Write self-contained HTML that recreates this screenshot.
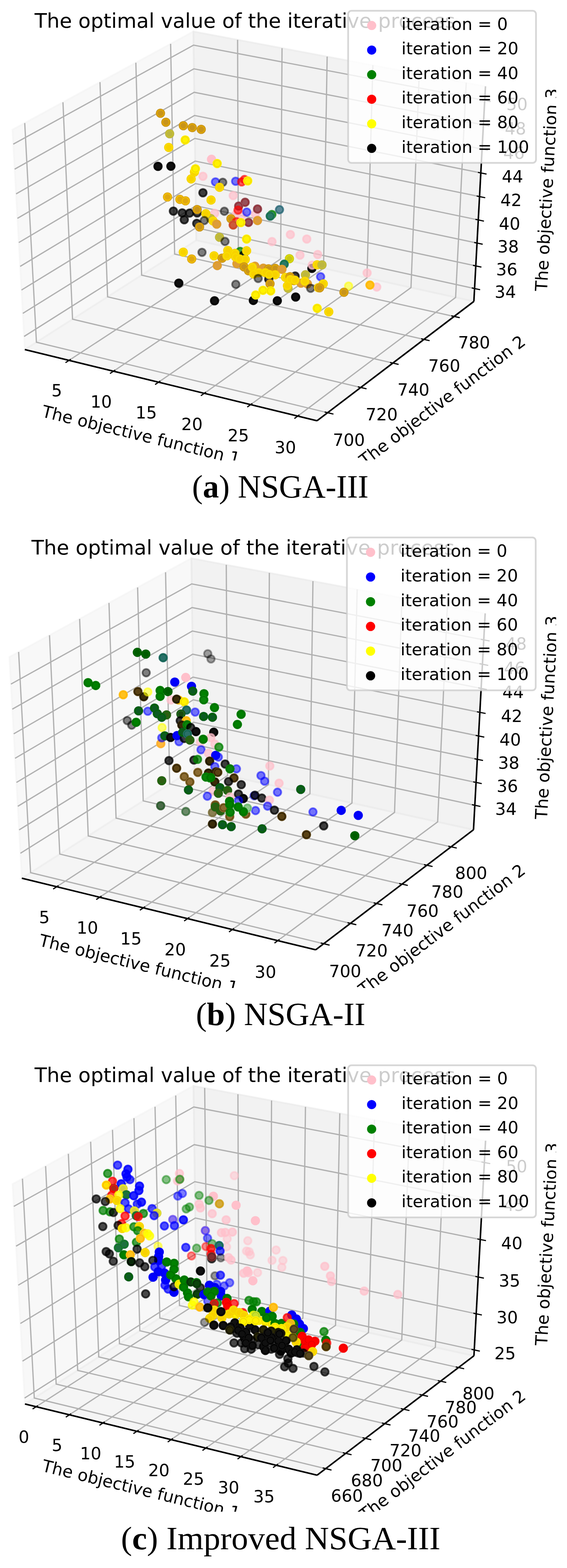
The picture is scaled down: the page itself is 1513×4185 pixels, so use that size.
<!DOCTYPE html>
<html><head><meta charset="utf-8"><title>The optimal value of the iterative process</title>
<style>html,body{margin:0;padding:0;background:#fff;}body{width:1513px;height:4185px;overflow:hidden;}svg{display:block;}</style>
</head><body>
<svg width="1513" height="4185" viewBox="0 0 1513 4185">
<rect width="100%" height="100%" fill="#fff"/>
<clipPath id="c1"><rect x="0.0" y="0.0" width="1484.0" height="1229.0"/></clipPath>
<g clip-path="url(#c1)">
<polygon points="66.3,933.1 523.6,641.4 516.0,84.0 33.2,346.1" fill="rgb(242,242,242)" fill-opacity="0.5" stroke="rgb(242,242,242)" stroke-opacity="0.5" stroke-width="4.5" stroke-linejoin="miter"/>
<polygon points="523.6,641.4 1264.5,804.5 1295.5,230.3 516.0,84.0" fill="rgb(230,230,230)" fill-opacity="0.5" stroke="rgb(230,230,230)" stroke-opacity="0.5" stroke-width="4.5" stroke-linejoin="miter"/>
<polygon points="66.3,933.1 845.8,1123.1 1264.5,804.5 523.6,641.4" fill="rgb(236,236,236)" fill-opacity="0.5" stroke="rgb(236,236,236)" stroke-opacity="0.5" stroke-width="4.5" stroke-linejoin="miter"/>
<path d="M66.3 933.1 L845.8 1123.1" stroke="#000" stroke-width="4.1" fill="none" stroke-linecap="butt"/>
<path d="M184.1 961.9 L636.0 666.2 L634.0 106.2 M302.7 990.8 L748.9 691.0 L752.6 128.4 M423.0 1020.1 L863.3 716.2 L873.0 151.0 M545.0 1049.8 L979.2 741.7 L995.0 173.9 M668.8 1080.0 L1096.7 767.6 L1118.7 197.1 M794.4 1110.6 L1215.8 793.8 L1244.1 220.7" stroke="#b0b0b0" stroke-width="3.3" fill="none" stroke-linejoin="miter"/>
<path d="M188.8 958.8 L174.8 968.0 M307.4 987.7 L293.5 997.0 M427.6 1016.9 L413.9 1026.4 M549.5 1046.6 L536.0 1056.2 M673.2 1076.7 L659.9 1086.4 M798.7 1107.3 L785.6 1117.1" stroke="#000" stroke-width="3.2" fill="none"/>
<path d="M1264.5 804.5 L845.8 1123.1" stroke="#000" stroke-width="4.1" fill="none" stroke-linecap="butt"/>
<path d="M66.0 328.3 L97.2 913.4 L874.2 1101.5 M168.0 273.0 L193.6 851.9 L962.6 1034.2 M266.8 219.3 L287.1 792.3 L1048.3 969.0 M362.5 167.4 L377.9 734.4 L1131.3 905.8 M455.3 117.0 L466.0 678.2 L1211.8 844.6" stroke="#b0b0b0" stroke-width="3.3" fill="none" stroke-linejoin="miter"/>
<path d="M866.4 1099.6 L889.8 1105.3 M954.9 1032.4 L978.1 1037.8 M1040.7 967.2 L1063.6 972.6 M1123.8 904.1 L1146.4 909.3 M1204.3 842.9 L1226.8 847.9" stroke="#000" stroke-width="3.2" fill="none"/>
<path d="M1264.5 804.5 L1295.5 230.3" stroke="#000" stroke-width="4.1" fill="none" stroke-linecap="butt"/>
<path d="M1266.3 770.1 L523.2 607.9 L64.3 898.0 M1269.6 709.7 L522.4 549.2 L60.9 836.4 M1272.9 648.7 L521.6 489.9 L57.3 774.1 M1276.2 587.0 L520.8 430.0 L53.8 711.0 M1279.6 524.6 L519.9 369.4 L50.2 647.3 M1283.0 461.5 L519.1 308.2 L46.5 582.8 M1286.4 397.7 L518.2 246.3 L42.9 517.5 M1289.9 333.2 L517.4 183.7 L39.1 451.5 M1293.4 267.9 L516.5 120.5 L35.4 384.7" stroke="#b0b0b0" stroke-width="3.3" fill="none" stroke-linejoin="miter"/>
<path d="M1258.9 768.4 L1281.2 773.3 M1262.1 708.1 L1284.6 712.9 M1265.4 647.1 L1288.0 651.9 M1268.7 585.4 L1291.4 590.2 M1272.0 523.1 L1294.8 527.7 M1275.3 460.0 L1298.3 464.6 M1278.7 396.2 L1301.9 400.8 M1282.2 331.7 L1305.4 336.2 M1285.7 266.5 L1309.1 270.9" stroke="#000" stroke-width="3.2" fill="none"/>
<g font-family="DejaVu Sans, Liberation Sans, sans-serif" fill="#000"><text x="151.4" y="1058.2" text-anchor="middle" font-size="44.8">5</text><text x="270.0" y="1087.6" text-anchor="middle" font-size="44.8">10</text><text x="390.2" y="1117.4" text-anchor="middle" font-size="44.8">15</text><text x="512.2" y="1147.7" text-anchor="middle" font-size="44.8">20</text><text x="636.0" y="1178.4" text-anchor="middle" font-size="44.8">25</text><text x="761.6" y="1209.5" text-anchor="middle" font-size="44.8">30</text><text transform="translate(375.7 1164.1) rotate(13.69)" x="0" y="12.4" text-anchor="middle" font-size="44.8">The objective function 1</text><text x="931.0" y="1189.9" text-anchor="middle" font-size="44.8">700</text><text x="1018.5" y="1121.8" text-anchor="middle" font-size="44.8">720</text><text x="1103.2" y="1055.8" text-anchor="middle" font-size="44.8">740</text><text x="1185.4" y="991.8" text-anchor="middle" font-size="44.8">760</text><text x="1265.0" y="929.8" text-anchor="middle" font-size="44.8">780</text><text transform="translate(1182.3 1071.8) rotate(-37.26)" x="0" y="12.4" text-anchor="middle" font-size="44.8">The objective function 2</text><text x="1348.6" y="795.4" text-anchor="middle" font-size="44.8">34</text><text x="1352.3" y="735.1" text-anchor="middle" font-size="44.8">36</text><text x="1356.1" y="674.2" text-anchor="middle" font-size="44.8">38</text><text x="1359.8" y="612.6" text-anchor="middle" font-size="44.8">40</text><text x="1363.7" y="550.3" text-anchor="middle" font-size="44.8">42</text><text x="1367.5" y="487.3" text-anchor="middle" font-size="44.8">44</text><text x="1371.5" y="423.6" text-anchor="middle" font-size="44.8">46</text><text x="1375.4" y="359.2" text-anchor="middle" font-size="44.8">48</text><text x="1379.4" y="294.0" text-anchor="middle" font-size="44.8">50</text><text transform="translate(1461.9 506.6) rotate(-86.91)" x="0" y="12.4" text-anchor="middle" font-size="44.8">The objective function 3</text></g>
<circle cx="428.2" cy="302.2" r="12.3" fill="#c8941a"/>
<circle cx="428.2" cy="302.2" r="8.9" fill="none" stroke="#e4aa00" stroke-width="2.2"/>
<circle cx="442.6" cy="326.3" r="12.3" fill="#c8941a"/>
<circle cx="442.6" cy="326.3" r="8.9" fill="none" stroke="#e4aa00" stroke-width="2.2"/>
<circle cx="452.7" cy="357.0" r="12.3" fill="#bcb640"/>
<circle cx="452.7" cy="357.0" r="8.9" fill="none" stroke="#c8c030" stroke-width="2.2"/>
<circle cx="489.2" cy="335.5" r="12.3" fill="#c8941a"/>
<circle cx="489.2" cy="335.5" r="8.9" fill="none" stroke="#e4aa00" stroke-width="2.2"/>
<circle cx="512.9" cy="340.5" r="12.3" fill="#c8941a"/>
<circle cx="512.9" cy="340.5" r="8.9" fill="none" stroke="#e4aa00" stroke-width="2.2"/>
<circle cx="536.9" cy="345.2" r="12.3" fill="#c8941a"/>
<circle cx="536.9" cy="345.2" r="8.9" fill="none" stroke="#e4aa00" stroke-width="2.2"/>
<circle cx="494.2" cy="373.5" r="12.3" fill="#fff200"/>
<circle cx="494.2" cy="373.5" r="8.9" fill="none" stroke="#f2d800" stroke-width="2.2"/>
<circle cx="450.2" cy="393.5" r="12.3" fill="#f8d200"/>
<circle cx="450.2" cy="393.5" r="8.9" fill="none" stroke="#f8e000" stroke-width="2.2"/>
<circle cx="421.6" cy="444.0" r="12.3" fill="#101010"/>
<circle cx="421.6" cy="444.0" r="8.9" fill="none" stroke="#000000" stroke-width="2.2"/>
<circle cx="456.0" cy="443.6" r="12.3" fill="#101010"/>
<circle cx="456.0" cy="443.6" r="8.9" fill="none" stroke="#000000" stroke-width="2.2"/>
<circle cx="564.4" cy="425.1" r="12.3" fill="#ffc0cb"/>
<circle cx="579.5" cy="436.5" r="12.3" fill="#fff200"/>
<circle cx="579.5" cy="436.5" r="8.9" fill="none" stroke="#f2d800" stroke-width="2.2"/>
<circle cx="518.9" cy="459.0" r="12.3" fill="#f8d200"/>
<circle cx="518.9" cy="459.0" r="8.9" fill="none" stroke="#f8e000" stroke-width="2.2"/>
<circle cx="521.5" cy="450.5" r="12.3" fill="#fff200"/>
<circle cx="521.5" cy="450.5" r="8.9" fill="none" stroke="#f2d800" stroke-width="2.2"/>
<circle cx="575.0" cy="485.5" r="12.3" fill="#0000ff" fill-opacity="0.53"/>
<circle cx="575.0" cy="485.5" r="8.9" fill="none" stroke="#0000ff" stroke-opacity="0.53" stroke-width="2.2"/>
<circle cx="594.4" cy="486.6" r="12.3" fill="#000000" fill-opacity="0.49"/>
<circle cx="594.4" cy="486.6" r="8.9" fill="none" stroke="#000000" stroke-opacity="0.49" stroke-width="2.2"/>
<circle cx="585.8" cy="499.9" r="12.3" fill="#f8d200"/>
<circle cx="585.8" cy="499.9" r="8.9" fill="none" stroke="#f8e000" stroke-width="2.2"/>
<circle cx="628.7" cy="483.8" r="12.3" fill="#0000ff" fill-opacity="0.53"/>
<circle cx="628.7" cy="483.8" r="8.9" fill="none" stroke="#0000ff" stroke-opacity="0.53" stroke-width="2.2"/>
<circle cx="644.9" cy="485.5" r="12.3" fill="#ff0000" fill-opacity="0.62"/>
<circle cx="644.9" cy="485.5" r="8.9" fill="none" stroke="#ff0000" stroke-opacity="0.62" stroke-width="2.2"/>
<circle cx="652.4" cy="479.1" r="12.3" fill="#ff0000" fill-opacity="0.62"/>
<circle cx="652.4" cy="479.1" r="8.9" fill="none" stroke="#ff0000" stroke-opacity="0.62" stroke-width="2.2"/>
<circle cx="661.0" cy="482.7" r="12.3" fill="#fff200"/>
<circle cx="661.0" cy="482.7" r="8.9" fill="none" stroke="#f2d800" stroke-width="2.2"/>
<circle cx="622.3" cy="522.0" r="12.3" fill="#ffc0cb" fill-opacity="0.71"/>
<circle cx="622.3" cy="522.0" r="8.9" fill="none" stroke="#ffc0cb" stroke-opacity="0.71" stroke-width="2.2"/>
<circle cx="563.2" cy="533.9" r="12.3" fill="#f8d200"/>
<circle cx="563.2" cy="533.9" r="8.9" fill="none" stroke="#f8e000" stroke-width="2.2"/>
<circle cx="630.9" cy="570.4" r="12.3" fill="#ffc0cb" fill-opacity="0.71"/>
<circle cx="630.9" cy="570.4" r="8.9" fill="none" stroke="#ffc0cb" stroke-opacity="0.71" stroke-width="2.2"/>
<circle cx="645.9" cy="574.7" r="12.3" fill="#ffc0cb" fill-opacity="0.71"/>
<circle cx="645.9" cy="574.7" r="8.9" fill="none" stroke="#ffc0cb" stroke-opacity="0.71" stroke-width="2.2"/>
<circle cx="681.4" cy="571.5" r="12.3" fill="#ffc0cb" fill-opacity="0.71"/>
<circle cx="681.4" cy="571.5" r="8.9" fill="none" stroke="#ffc0cb" stroke-opacity="0.71" stroke-width="2.2"/>
<circle cx="572.9" cy="569.3" r="12.3" fill="#ffc0cb" fill-opacity="0.71"/>
<circle cx="572.9" cy="569.3" r="8.9" fill="none" stroke="#ffc0cb" stroke-opacity="0.71" stroke-width="2.2"/>
<circle cx="654.1" cy="539.9" r="12.3" fill="#985058"/>
<circle cx="654.1" cy="539.9" r="8.9" fill="none" stroke="#902830" stroke-width="2.2"/>
<circle cx="636.9" cy="550.0" r="12.3" fill="#985058"/>
<circle cx="636.9" cy="550.0" r="8.9" fill="none" stroke="#902830" stroke-width="2.2"/>
<circle cx="635.2" cy="560.7" r="12.3" fill="#ff0000" fill-opacity="0.62"/>
<circle cx="635.2" cy="560.7" r="8.9" fill="none" stroke="#ff0000" stroke-opacity="0.62" stroke-width="2.2"/>
<circle cx="598.7" cy="563.9" r="12.3" fill="#000000" fill-opacity="0.49"/>
<circle cx="598.7" cy="563.9" r="8.9" fill="none" stroke="#000000" stroke-opacity="0.49" stroke-width="2.2"/>
<circle cx="658.4" cy="566.1" r="12.3" fill="#0000ff" fill-opacity="0.53"/>
<circle cx="658.4" cy="566.1" r="8.9" fill="none" stroke="#0000ff" stroke-opacity="0.53" stroke-width="2.2"/>
<circle cx="687.2" cy="557.9" r="12.3" fill="#985058"/>
<circle cx="687.2" cy="557.9" r="8.9" fill="none" stroke="#902830" stroke-width="2.2"/>
<circle cx="745.8" cy="559.6" r="12.3" fill="#5a8898"/>
<circle cx="745.8" cy="559.6" r="8.9" fill="none" stroke="#2a6a70" stroke-width="2.2"/>
<circle cx="725.4" cy="572.5" r="12.3" fill="#008000" fill-opacity="0.73"/>
<circle cx="725.4" cy="572.5" r="8.9" fill="none" stroke="#008000" stroke-opacity="0.73" stroke-width="2.2"/>
<circle cx="721.1" cy="576.8" r="12.3" fill="#2a7868"/>
<circle cx="721.1" cy="576.8" r="8.9" fill="none" stroke="#107040" stroke-width="2.2"/>
<circle cx="562.1" cy="583.3" r="12.3" fill="#bcb640"/>
<circle cx="562.1" cy="583.3" r="8.9" fill="none" stroke="#c8c030" stroke-width="2.2"/>
<circle cx="568.6" cy="589.7" r="12.3" fill="#f8d200"/>
<circle cx="568.6" cy="589.7" r="8.9" fill="none" stroke="#f8e000" stroke-width="2.2"/>
<circle cx="578.3" cy="598.3" r="12.3" fill="#dc9c3c"/>
<circle cx="578.3" cy="598.3" r="8.9" fill="none" stroke="#e2a020" stroke-width="2.2"/>
<circle cx="616.3" cy="583.7" r="12.3" fill="#c8941a"/>
<circle cx="616.3" cy="583.7" r="8.9" fill="none" stroke="#e4aa00" stroke-width="2.2"/>
<circle cx="687.2" cy="588.6" r="12.3" fill="#dc9c3c"/>
<circle cx="687.2" cy="588.6" r="8.9" fill="none" stroke="#e2a020" stroke-width="2.2"/>
<circle cx="663.1" cy="593.6" r="12.3" fill="#985058"/>
<circle cx="663.1" cy="593.6" r="8.9" fill="none" stroke="#902830" stroke-width="2.2"/>
<circle cx="630.9" cy="591.9" r="12.3" fill="#ff0000" fill-opacity="0.62"/>
<circle cx="630.9" cy="591.9" r="8.9" fill="none" stroke="#ff0000" stroke-opacity="0.62" stroke-width="2.2"/>
<circle cx="622.3" cy="600.5" r="12.3" fill="#cc5a3a"/>
<circle cx="622.3" cy="600.5" r="8.9" fill="none" stroke="#d04020" stroke-width="2.2"/>
<circle cx="642.7" cy="594.0" r="12.3" fill="#fff200"/>
<circle cx="642.7" cy="594.0" r="8.9" fill="none" stroke="#f2d800" stroke-width="2.2"/>
<circle cx="510.0" cy="477.6" r="12.3" fill="#f8d200"/>
<circle cx="510.0" cy="477.6" r="8.9" fill="none" stroke="#f8e000" stroke-width="2.2"/>
<circle cx="541.5" cy="470.5" r="12.3" fill="#ffc0cb" fill-opacity="0.71"/>
<circle cx="541.5" cy="470.5" r="8.9" fill="none" stroke="#ffc0cb" stroke-opacity="0.71" stroke-width="2.2"/>
<circle cx="541.5" cy="514.5" r="12.3" fill="#000000" fill-opacity="0.75"/>
<circle cx="541.5" cy="514.5" r="8.9" fill="none" stroke="#000000" stroke-opacity="0.75" stroke-width="2.2"/>
<circle cx="447.0" cy="525.7" r="12.3" fill="#e0a810"/>
<circle cx="447.0" cy="525.7" r="8.9" fill="none" stroke="#f4c400" stroke-width="2.2"/>
<circle cx="479.9" cy="532.1" r="12.3" fill="#e0a810"/>
<circle cx="479.9" cy="532.1" r="8.9" fill="none" stroke="#f4c400" stroke-width="2.2"/>
<circle cx="494.9" cy="536.0" r="12.3" fill="#e0a810"/>
<circle cx="494.9" cy="536.0" r="8.9" fill="none" stroke="#f4c400" stroke-width="2.2"/>
<circle cx="462.7" cy="563.5" r="12.3" fill="#000000" fill-opacity="0.75"/>
<circle cx="462.7" cy="563.5" r="8.9" fill="none" stroke="#000000" stroke-opacity="0.75" stroke-width="2.2"/>
<circle cx="486.3" cy="568.2" r="12.3" fill="#000000" fill-opacity="0.75"/>
<circle cx="486.3" cy="568.2" r="8.9" fill="none" stroke="#000000" stroke-opacity="0.75" stroke-width="2.2"/>
<circle cx="505.7" cy="568.7" r="12.3" fill="#000000" fill-opacity="0.75"/>
<circle cx="505.7" cy="568.7" r="8.9" fill="none" stroke="#000000" stroke-opacity="0.75" stroke-width="2.2"/>
<circle cx="491.7" cy="586.5" r="12.3" fill="#000000" fill-opacity="0.75"/>
<circle cx="491.7" cy="586.5" r="8.9" fill="none" stroke="#000000" stroke-opacity="0.75" stroke-width="2.2"/>
<circle cx="526.1" cy="568.2" r="12.3" fill="#000000" fill-opacity="0.75"/>
<circle cx="526.1" cy="568.2" r="8.9" fill="none" stroke="#000000" stroke-opacity="0.75" stroke-width="2.2"/>
<circle cx="526.1" cy="559.2" r="12.3" fill="#c8941a"/>
<circle cx="526.1" cy="559.2" r="8.9" fill="none" stroke="#e4aa00" stroke-width="2.2"/>
<circle cx="549.3" cy="570.4" r="12.3" fill="#f8d200"/>
<circle cx="549.3" cy="570.4" r="8.9" fill="none" stroke="#f8e000" stroke-width="2.2"/>
<circle cx="545.0" cy="588.6" r="12.3" fill="#000000" fill-opacity="0.49"/>
<circle cx="545.0" cy="588.6" r="8.9" fill="none" stroke="#000000" stroke-opacity="0.49" stroke-width="2.2"/>
<circle cx="525.0" cy="596.2" r="12.3" fill="#000000" fill-opacity="0.75"/>
<circle cx="525.0" cy="596.2" r="8.9" fill="none" stroke="#000000" stroke-opacity="0.75" stroke-width="2.2"/>
<circle cx="532.5" cy="605.8" r="12.3" fill="#c8941a"/>
<circle cx="532.5" cy="605.8" r="8.9" fill="none" stroke="#e4aa00" stroke-width="2.2"/>
<circle cx="489.1" cy="673.0" r="12.3" fill="#f8d200"/>
<circle cx="489.1" cy="673.0" r="8.9" fill="none" stroke="#f8e000" stroke-width="2.2"/>
<circle cx="511.5" cy="691.3" r="12.3" fill="#e0a810"/>
<circle cx="511.5" cy="691.3" r="8.9" fill="none" stroke="#f4c400" stroke-width="2.2"/>
<circle cx="539.0" cy="673.5" r="12.3" fill="#000000" fill-opacity="0.49"/>
<circle cx="539.0" cy="673.5" r="8.9" fill="none" stroke="#000000" stroke-opacity="0.49" stroke-width="2.2"/>
<circle cx="571.2" cy="682.7" r="12.3" fill="#f8d200"/>
<circle cx="571.2" cy="682.7" r="8.9" fill="none" stroke="#f8e000" stroke-width="2.2"/>
<circle cx="477.1" cy="755.7" r="12.3" fill="#101010"/>
<circle cx="477.1" cy="755.7" r="8.9" fill="none" stroke="#000000" stroke-width="2.2"/>
<circle cx="585.8" cy="633.3" r="12.3" fill="#bcb640"/>
<circle cx="585.8" cy="633.3" r="8.9" fill="none" stroke="#c8c030" stroke-width="2.2"/>
<circle cx="600.4" cy="644.4" r="12.3" fill="#000000" fill-opacity="0.49"/>
<circle cx="600.4" cy="644.4" r="8.9" fill="none" stroke="#000000" stroke-opacity="0.49" stroke-width="2.2"/>
<circle cx="658.0" cy="638.1" r="12.3" fill="#fff200"/>
<circle cx="658.0" cy="638.1" r="8.9" fill="none" stroke="#f2d800" stroke-width="2.2"/>
<circle cx="640.8" cy="671.1" r="12.3" fill="#008000" fill-opacity="0.73"/>
<circle cx="640.8" cy="671.1" r="8.9" fill="none" stroke="#008000" stroke-opacity="0.73" stroke-width="2.2"/>
<circle cx="649.4" cy="681.4" r="12.3" fill="#000000" fill-opacity="0.75"/>
<circle cx="649.4" cy="681.4" r="8.9" fill="none" stroke="#000000" stroke-opacity="0.75" stroke-width="2.2"/>
<circle cx="607.8" cy="668.5" r="12.3" fill="#f8d200"/>
<circle cx="607.8" cy="668.5" r="8.9" fill="none" stroke="#f8e000" stroke-width="2.2"/>
<circle cx="592.7" cy="689.1" r="12.3" fill="#c8941a"/>
<circle cx="592.7" cy="689.1" r="8.9" fill="none" stroke="#e4aa00" stroke-width="2.2"/>
<circle cx="605.5" cy="682.8" r="12.3" fill="#f8d200"/>
<circle cx="605.5" cy="682.8" r="8.9" fill="none" stroke="#f8e000" stroke-width="2.2"/>
<circle cx="627.0" cy="676.2" r="12.3" fill="#f8d200"/>
<circle cx="627.0" cy="676.2" r="8.9" fill="none" stroke="#f8e000" stroke-width="2.2"/>
<circle cx="630.5" cy="687.4" r="12.3" fill="#fff200"/>
<circle cx="630.5" cy="687.4" r="8.9" fill="none" stroke="#f2d800" stroke-width="2.2"/>
<circle cx="658.0" cy="669.4" r="12.3" fill="#f8d200"/>
<circle cx="658.0" cy="669.4" r="8.9" fill="none" stroke="#f8e000" stroke-width="2.2"/>
<circle cx="654.5" cy="692.6" r="12.3" fill="#f8d200"/>
<circle cx="654.5" cy="692.6" r="8.9" fill="none" stroke="#f8e000" stroke-width="2.2"/>
<circle cx="579.8" cy="708.9" r="12.3" fill="#dc9c3c"/>
<circle cx="579.8" cy="708.9" r="8.9" fill="none" stroke="#e2a020" stroke-width="2.2"/>
<circle cx="632.2" cy="703.7" r="12.3" fill="#dc9c3c"/>
<circle cx="632.2" cy="703.7" r="8.9" fill="none" stroke="#e2a020" stroke-width="2.2"/>
<circle cx="651.1" cy="712.3" r="12.3" fill="#c8941a"/>
<circle cx="651.1" cy="712.3" r="8.9" fill="none" stroke="#e4aa00" stroke-width="2.2"/>
<circle cx="663.1" cy="722.6" r="12.3" fill="#c8941a"/>
<circle cx="663.1" cy="722.6" r="8.9" fill="none" stroke="#e4aa00" stroke-width="2.2"/>
<circle cx="680.3" cy="710.6" r="12.3" fill="#dc9c3c"/>
<circle cx="680.3" cy="710.6" r="8.9" fill="none" stroke="#e2a020" stroke-width="2.2"/>
<circle cx="702.6" cy="715.8" r="12.3" fill="#dc9c3c"/>
<circle cx="702.6" cy="715.8" r="8.9" fill="none" stroke="#e2a020" stroke-width="2.2"/>
<circle cx="673.4" cy="713.2" r="12.3" fill="#f8d200"/>
<circle cx="673.4" cy="713.2" r="8.9" fill="none" stroke="#f8e000" stroke-width="2.2"/>
<circle cx="716.4" cy="717.5" r="12.3" fill="#c8941a"/>
<circle cx="716.4" cy="717.5" r="8.9" fill="none" stroke="#e4aa00" stroke-width="2.2"/>
<circle cx="690.6" cy="727.8" r="12.3" fill="#f8d200"/>
<circle cx="690.6" cy="727.8" r="8.9" fill="none" stroke="#f8e000" stroke-width="2.2"/>
<circle cx="707.8" cy="727.8" r="12.3" fill="#f8d200"/>
<circle cx="707.8" cy="727.8" r="8.9" fill="none" stroke="#f8e000" stroke-width="2.2"/>
<circle cx="676.9" cy="731.2" r="12.3" fill="#f8d200"/>
<circle cx="676.9" cy="731.2" r="8.9" fill="none" stroke="#f8e000" stroke-width="2.2"/>
<circle cx="725.8" cy="644.9" r="12.3" fill="#ffc0cb" fill-opacity="0.71"/>
<circle cx="725.8" cy="644.9" r="8.9" fill="none" stroke="#ffc0cb" stroke-opacity="0.71" stroke-width="2.2"/>
<circle cx="774.8" cy="626.0" r="12.3" fill="#ffc0cb" fill-opacity="0.71"/>
<circle cx="774.8" cy="626.0" r="8.9" fill="none" stroke="#ffc0cb" stroke-opacity="0.71" stroke-width="2.2"/>
<circle cx="818.6" cy="638.0" r="12.3" fill="#ffc0cb" fill-opacity="0.71"/>
<circle cx="818.6" cy="638.0" r="8.9" fill="none" stroke="#ffc0cb" stroke-opacity="0.71" stroke-width="2.2"/>
<circle cx="800.5" cy="681.0" r="12.3" fill="#ffc0cb" fill-opacity="0.71"/>
<circle cx="800.5" cy="681.0" r="8.9" fill="none" stroke="#ffc0cb" stroke-opacity="0.71" stroke-width="2.2"/>
<circle cx="847.8" cy="679.3" r="12.3" fill="#ffc0cb" fill-opacity="0.71"/>
<circle cx="847.8" cy="679.3" r="8.9" fill="none" stroke="#ffc0cb" stroke-opacity="0.71" stroke-width="2.2"/>
<circle cx="772.2" cy="690.5" r="12.3" fill="#c8c814"/>
<circle cx="772.2" cy="690.5" r="8.9" fill="none" stroke="#e0e000" stroke-width="2.2"/>
<circle cx="758.4" cy="705.1" r="12.3" fill="#2a7868"/>
<circle cx="758.4" cy="705.1" r="8.9" fill="none" stroke="#107040" stroke-width="2.2"/>
<circle cx="832.3" cy="716.2" r="12.3" fill="#101010"/>
<circle cx="832.3" cy="716.2" r="8.9" fill="none" stroke="#000000" stroke-width="2.2"/>
<circle cx="833.2" cy="707.6" r="12.3" fill="#ffc0cb" fill-opacity="0.71"/>
<circle cx="833.2" cy="707.6" r="8.9" fill="none" stroke="#ffc0cb" stroke-opacity="0.71" stroke-width="2.2"/>
<circle cx="846.1" cy="706.8" r="12.3" fill="#f8d200"/>
<circle cx="846.1" cy="706.8" r="8.9" fill="none" stroke="#f8e000" stroke-width="2.2"/>
<circle cx="855.5" cy="738.6" r="12.3" fill="#0000ff" fill-opacity="0.53"/>
<circle cx="855.5" cy="738.6" r="8.9" fill="none" stroke="#0000ff" stroke-opacity="0.53" stroke-width="2.2"/>
<circle cx="734.4" cy="716.2" r="12.3" fill="#c8941a"/>
<circle cx="734.4" cy="716.2" r="8.9" fill="none" stroke="#e4aa00" stroke-width="2.2"/>
<circle cx="752.4" cy="718.8" r="12.3" fill="#dc9c3c"/>
<circle cx="752.4" cy="718.8" r="8.9" fill="none" stroke="#e2a020" stroke-width="2.2"/>
<circle cx="734.4" cy="733.4" r="12.3" fill="#f8d200"/>
<circle cx="734.4" cy="733.4" r="8.9" fill="none" stroke="#f8e000" stroke-width="2.2"/>
<circle cx="717.2" cy="745.5" r="12.3" fill="#000000" fill-opacity="0.75"/>
<circle cx="717.2" cy="745.5" r="8.9" fill="none" stroke="#000000" stroke-opacity="0.75" stroke-width="2.2"/>
<circle cx="720.6" cy="757.5" r="12.3" fill="#c8941a"/>
<circle cx="720.6" cy="757.5" r="8.9" fill="none" stroke="#e4aa00" stroke-width="2.2"/>
<circle cx="787.6" cy="736.9" r="12.3" fill="#000000" fill-opacity="0.75"/>
<circle cx="787.6" cy="736.9" r="8.9" fill="none" stroke="#000000" stroke-opacity="0.75" stroke-width="2.2"/>
<circle cx="761.9" cy="740.3" r="12.3" fill="#f8d200"/>
<circle cx="761.9" cy="740.3" r="8.9" fill="none" stroke="#f8e000" stroke-width="2.2"/>
<circle cx="773.9" cy="738.6" r="12.3" fill="#c8941a"/>
<circle cx="773.9" cy="738.6" r="8.9" fill="none" stroke="#e4aa00" stroke-width="2.2"/>
<circle cx="784.2" cy="748.9" r="12.3" fill="#c8941a"/>
<circle cx="784.2" cy="748.9" r="8.9" fill="none" stroke="#e4aa00" stroke-width="2.2"/>
<circle cx="768.7" cy="769.5" r="12.3" fill="#bcb640"/>
<circle cx="768.7" cy="769.5" r="8.9" fill="none" stroke="#c8c030" stroke-width="2.2"/>
<circle cx="767.0" cy="762.6" r="12.3" fill="#f8d200"/>
<circle cx="767.0" cy="762.6" r="8.9" fill="none" stroke="#f8e000" stroke-width="2.2"/>
<circle cx="815.1" cy="733.4" r="12.3" fill="#bcb640"/>
<circle cx="815.1" cy="733.4" r="8.9" fill="none" stroke="#c8c030" stroke-width="2.2"/>
<circle cx="803.1" cy="755.8" r="12.3" fill="#dc9c3c"/>
<circle cx="803.1" cy="755.8" r="8.9" fill="none" stroke="#e2a020" stroke-width="2.2"/>
<circle cx="820.3" cy="757.5" r="12.3" fill="#dc9c3c"/>
<circle cx="820.3" cy="757.5" r="8.9" fill="none" stroke="#e2a020" stroke-width="2.2"/>
<circle cx="813.4" cy="750.6" r="12.3" fill="#f8d200"/>
<circle cx="813.4" cy="750.6" r="8.9" fill="none" stroke="#f8e000" stroke-width="2.2"/>
<circle cx="828.9" cy="769.5" r="12.3" fill="#000000" fill-opacity="0.49"/>
<circle cx="828.9" cy="769.5" r="8.9" fill="none" stroke="#000000" stroke-opacity="0.49" stroke-width="2.2"/>
<circle cx="849.5" cy="767.8" r="12.3" fill="#f8d200"/>
<circle cx="849.5" cy="767.8" r="8.9" fill="none" stroke="#f8e000" stroke-width="2.2"/>
<circle cx="701.7" cy="774.7" r="12.3" fill="#fff200"/>
<circle cx="701.7" cy="774.7" r="8.9" fill="none" stroke="#f2d800" stroke-width="2.2"/>
<circle cx="722.3" cy="776.4" r="12.3" fill="#fff200"/>
<circle cx="722.3" cy="776.4" r="8.9" fill="none" stroke="#f2d800" stroke-width="2.2"/>
<circle cx="859.3" cy="707.0" r="12.3" fill="#bcb640"/>
<circle cx="859.3" cy="707.0" r="8.9" fill="none" stroke="#c8c030" stroke-width="2.2"/>
<circle cx="862.6" cy="757.5" r="12.3" fill="#f8d200"/>
<circle cx="862.6" cy="757.5" r="8.9" fill="none" stroke="#f8e000" stroke-width="2.2"/>
<circle cx="852.9" cy="768.2" r="12.3" fill="#c8941a"/>
<circle cx="852.9" cy="768.2" r="8.9" fill="none" stroke="#e4aa00" stroke-width="2.2"/>
<circle cx="979.6" cy="728.5" r="12.3" fill="#ffc0cb" fill-opacity="0.71"/>
<circle cx="979.6" cy="728.5" r="8.9" fill="none" stroke="#ffc0cb" stroke-opacity="0.71" stroke-width="2.2"/>
<circle cx="930.2" cy="763.5" r="12.3" fill="#ffff00" fill-opacity="0.55"/>
<circle cx="930.2" cy="763.5" r="8.9" fill="none" stroke="#ffff00" stroke-opacity="0.55" stroke-width="2.2"/>
<circle cx="917.8" cy="780.0" r="12.3" fill="#c8941a"/>
<circle cx="917.8" cy="780.0" r="8.9" fill="none" stroke="#e4aa00" stroke-width="2.2"/>
<circle cx="1005.4" cy="766.1" r="12.3" fill="#ffc0cb" fill-opacity="0.71"/>
<circle cx="1005.4" cy="766.1" r="8.9" fill="none" stroke="#ffc0cb" stroke-opacity="0.71" stroke-width="2.2"/>
<circle cx="987.2" cy="760.7" r="12.3" fill="#ffc21e"/>
<circle cx="987.2" cy="760.7" r="8.9" fill="none" stroke="#ffb400" stroke-width="2.2"/>
<circle cx="629.2" cy="758.9" r="12.3" fill="#000000" fill-opacity="0.49"/>
<circle cx="629.2" cy="758.9" r="8.9" fill="none" stroke="#000000" stroke-opacity="0.49" stroke-width="2.2"/>
<circle cx="572.5" cy="802.7" r="12.3" fill="#101010"/>
<circle cx="572.5" cy="802.7" r="8.9" fill="none" stroke="#000000" stroke-width="2.2"/>
<circle cx="676.0" cy="801.9" r="12.3" fill="#101010"/>
<circle cx="676.0" cy="801.9" r="8.9" fill="none" stroke="#000000" stroke-width="2.2"/>
<circle cx="740.0" cy="802.7" r="12.3" fill="#101010"/>
<circle cx="740.0" cy="802.7" r="8.9" fill="none" stroke="#000000" stroke-width="2.2"/>
<circle cx="682.4" cy="787.3" r="12.3" fill="#fff200"/>
<circle cx="682.4" cy="787.3" r="8.9" fill="none" stroke="#f2d800" stroke-width="2.2"/>
<circle cx="688.9" cy="743.2" r="12.3" fill="#000000" fill-opacity="0.49"/>
<circle cx="688.9" cy="743.2" r="8.9" fill="none" stroke="#000000" stroke-opacity="0.49" stroke-width="2.2"/>
<circle cx="846.4" cy="822.7" r="12.3" fill="#fff200"/>
<circle cx="846.4" cy="822.7" r="8.9" fill="none" stroke="#f2d800" stroke-width="2.2"/>
<circle cx="877.3" cy="832.2" r="12.3" fill="#f8d200"/>
<circle cx="877.3" cy="832.2" r="8.9" fill="none" stroke="#f8e000" stroke-width="2.2"/>
<circle cx="788.9" cy="792.8" r="12.3" fill="#101010"/>
<circle cx="788.9" cy="792.8" r="8.9" fill="none" stroke="#000000" stroke-width="2.2"/>
<circle cx="718.1" cy="732.3" r="12.3" fill="#f8d200"/>
<circle cx="718.1" cy="732.3" r="8.9" fill="none" stroke="#f8e000" stroke-width="2.2"/>
<circle cx="774.8" cy="746.1" r="12.3" fill="#f8d200"/>
<circle cx="774.8" cy="746.1" r="8.9" fill="none" stroke="#f8e000" stroke-width="2.2"/>
<circle cx="786.9" cy="747.8" r="12.3" fill="#f8d200"/>
<circle cx="786.9" cy="747.8" r="8.9" fill="none" stroke="#f8e000" stroke-width="2.2"/>
<circle cx="628.7" cy="685.9" r="12.3" fill="#f8d200"/>
<circle cx="628.7" cy="685.9" r="8.9" fill="none" stroke="#f8e000" stroke-width="2.2"/>
<circle cx="639.1" cy="691.1" r="12.3" fill="#f8d200"/>
<circle cx="639.1" cy="691.1" r="8.9" fill="none" stroke="#f8e000" stroke-width="2.2"/>
<text x="92.2" y="73.5" font-family="DejaVu Sans, Liberation Sans, sans-serif" font-size="53.69">The optimal value of the iterative process</text>
<rect x="929.0" y="28.7" width="501.3" height="406.1" rx="9.0" fill="#fff" fill-opacity="0.8" stroke="#ccc" stroke-opacity="0.8" stroke-width="4.5"/>
<circle cx="991.8" cy="68.1" r="10.0" fill="#ffc0cb" stroke="#ffc0cb" stroke-width="4.5"/>
<text x="1071.3" y="79.6" font-family="DejaVu Sans, Liberation Sans, sans-serif" font-size="44.8">iteration = 0</text>
<circle cx="991.8" cy="133.7" r="10.0" fill="#0000ff" stroke="#0000ff" stroke-width="4.5"/>
<text x="1071.3" y="145.2" font-family="DejaVu Sans, Liberation Sans, sans-serif" font-size="44.8">iteration = 20</text>
<circle cx="991.8" cy="199.3" r="10.0" fill="#008000" stroke="#008000" stroke-width="4.5"/>
<text x="1071.3" y="210.8" font-family="DejaVu Sans, Liberation Sans, sans-serif" font-size="44.8">iteration = 40</text>
<circle cx="991.8" cy="264.9" r="10.0" fill="#ff0000" stroke="#ff0000" stroke-width="4.5"/>
<text x="1071.3" y="276.4" font-family="DejaVu Sans, Liberation Sans, sans-serif" font-size="44.8">iteration = 60</text>
<circle cx="991.8" cy="330.5" r="10.0" fill="#ffff00" stroke="#ffff00" stroke-width="4.5"/>
<text x="1071.3" y="342.0" font-family="DejaVu Sans, Liberation Sans, sans-serif" font-size="44.8">iteration = 80</text>
<circle cx="991.8" cy="396.1" r="10.0" fill="#000000" stroke="#000000" stroke-width="4.5"/>
<text x="1071.3" y="407.6" font-family="DejaVu Sans, Liberation Sans, sans-serif" font-size="44.8">iteration = 100</text>
</g>
<text x="512.6" y="1327.8" font-family="Liberation Serif, serif" font-size="87.0" textLength="470.9" lengthAdjust="spacingAndGlyphs">(<tspan font-weight="bold">a</tspan>) NSGA-III</text>
<clipPath id="c2"><rect x="0.0" y="1380.0" width="1484.0" height="1257.0"/></clipPath>
<g clip-path="url(#c2)">
<polygon points="58.3,2344.1 518.3,2050.7 510.7,1490.0 25.0,1753.6" fill="rgb(242,242,242)" fill-opacity="0.5" stroke="rgb(242,242,242)" stroke-opacity="0.5" stroke-width="4.5" stroke-linejoin="miter"/>
<polygon points="518.3,2050.7 1263.5,2214.7 1294.7,1637.2 510.7,1490.0" fill="rgb(230,230,230)" fill-opacity="0.5" stroke="rgb(230,230,230)" stroke-opacity="0.5" stroke-width="4.5" stroke-linejoin="miter"/>
<polygon points="58.3,2344.1 842.3,2535.1 1263.5,2214.7 518.3,2050.7" fill="rgb(236,236,236)" fill-opacity="0.5" stroke="rgb(236,236,236)" stroke-opacity="0.5" stroke-width="4.5" stroke-linejoin="miter"/>
<path d="M58.3 2344.1 L842.3 2535.1" stroke="#000" stroke-width="4.1" fill="none" stroke-linecap="butt"/>
<path d="M151.4 2366.7 L607.1 2070.2 L603.8 1507.5 M266.2 2394.7 L716.4 2094.3 L718.7 1529.1 M382.5 2423.1 L827.1 2118.6 L835.1 1550.9 M500.5 2451.8 L939.2 2143.3 L953.1 1573.0 M620.1 2480.9 L1052.8 2168.3 L1072.6 1595.5 M741.3 2510.5 L1167.8 2193.6 L1193.8 1618.2" stroke="#b0b0b0" stroke-width="3.3" fill="none" stroke-linejoin="miter"/>
<path d="M156.1 2363.7 L141.9 2372.9 M270.8 2391.6 L256.8 2400.9 M387.1 2419.9 L373.3 2429.4 M505.0 2448.6 L491.4 2458.2 M624.6 2477.7 L611.1 2487.4 M745.8 2507.2 L732.5 2517.1" stroke="#000" stroke-width="3.2" fill="none"/>
<path d="M1263.5 2214.7 L842.3 2535.1" stroke="#000" stroke-width="4.1" fill="none" stroke-linecap="butt"/>
<path d="M49.7 1740.2 L81.6 2329.2 L863.8 2518.8 M132.1 1695.5 L159.5 2279.5 L935.2 2464.4 M212.5 1651.9 L235.5 2231.1 L1004.9 2411.4 M290.8 1609.3 L309.7 2183.7 L1072.8 2359.8 M367.2 1567.9 L382.1 2137.5 L1139.1 2309.3 M441.8 1527.4 L452.8 2092.4 L1203.7 2260.2" stroke="#b0b0b0" stroke-width="3.3" fill="none" stroke-linejoin="miter"/>
<path d="M855.9 2516.9 L879.5 2522.6 M927.4 2462.6 L950.8 2468.1 M997.2 2409.6 L1020.4 2415.1 M1065.2 2358.0 L1088.2 2363.3 M1131.5 2307.6 L1154.3 2312.8 M1196.2 2258.5 L1218.8 2263.5" stroke="#000" stroke-width="3.2" fill="none"/>
<path d="M1263.5 2214.7 L1294.7 1637.2" stroke="#000" stroke-width="4.1" fill="none" stroke-linecap="butt"/>
<path d="M1267.0 2149.3 L517.4 1987.0 L54.5 2277.3 M1270.3 2088.3 L516.6 1927.7 L51.0 2215.0 M1273.7 2026.6 L515.8 1867.8 L47.5 2152.0 M1277.0 1964.3 L515.0 1807.3 L43.9 2088.3 M1280.4 1901.2 L514.2 1746.1 L40.2 2023.8 M1283.9 1837.4 L513.3 1684.2 L36.6 1958.6 M1287.4 1773.0 L512.5 1621.6 L32.8 1892.7 M1290.9 1707.7 L511.6 1558.4 L29.1 1825.9" stroke="#b0b0b0" stroke-width="3.3" fill="none" stroke-linejoin="miter"/>
<path d="M1259.5 2147.6 L1282.1 2152.5 M1262.8 2086.7 L1285.5 2091.5 M1266.1 2025.0 L1288.9 2029.8 M1269.4 1962.7 L1292.3 1967.4 M1272.8 1899.7 L1295.8 1904.3 M1276.2 1835.9 L1299.4 1840.5 M1279.6 1771.4 L1302.9 1776.0 M1283.1 1706.2 L1306.5 1710.7" stroke="#000" stroke-width="3.2" fill="none"/>
<g font-family="DejaVu Sans, Liberation Sans, sans-serif" fill="#000"><text x="118.4" y="2463.5" text-anchor="middle" font-size="45.0">5</text><text x="233.2" y="2492.0" text-anchor="middle" font-size="45.0">10</text><text x="349.5" y="2520.8" text-anchor="middle" font-size="45.0">15</text><text x="467.5" y="2550.1" text-anchor="middle" font-size="45.0">20</text><text x="587.1" y="2579.7" text-anchor="middle" font-size="45.0">25</text><text x="708.4" y="2609.8" text-anchor="middle" font-size="45.0">30</text><text transform="translate(369.5 2576.4) rotate(13.69)" x="0" y="12.4" text-anchor="middle" font-size="45.0">The objective function 1</text><text x="921.0" y="2607.8" text-anchor="middle" font-size="45.0">700</text><text x="991.7" y="2552.7" text-anchor="middle" font-size="45.0">720</text><text x="1060.6" y="2499.1" text-anchor="middle" font-size="45.0">740</text><text x="1127.8" y="2446.8" text-anchor="middle" font-size="45.0">760</text><text x="1193.4" y="2395.7" text-anchor="middle" font-size="45.0">780</text><text x="1257.3" y="2345.9" text-anchor="middle" font-size="45.0">800</text><text transform="translate(1180.9 2483.6) rotate(-37.26)" x="0" y="12.4" text-anchor="middle" font-size="45.0">The objective function 2</text><text x="1350.0" y="2174.7" text-anchor="middle" font-size="45.0">34</text><text x="1353.8" y="2113.8" text-anchor="middle" font-size="45.0">36</text><text x="1357.6" y="2052.3" text-anchor="middle" font-size="45.0">38</text><text x="1361.4" y="1990.0" text-anchor="middle" font-size="45.0">40</text><text x="1365.3" y="1927.1" text-anchor="middle" font-size="45.0">42</text><text x="1369.2" y="1863.4" text-anchor="middle" font-size="45.0">44</text><text x="1373.1" y="1799.0" text-anchor="middle" font-size="45.0">46</text><text x="1377.1" y="1733.9" text-anchor="middle" font-size="45.0">48</text><text transform="translate(1462.1 1915.0) rotate(-86.91)" x="0" y="12.4" text-anchor="middle" font-size="45.0">The objective function 3</text></g>
<circle cx="235.0" cy="1822.0" r="12.3" fill="#008000"/>
<circle cx="235.0" cy="1822.0" r="8.9" fill="none" stroke="#006c00" stroke-width="2.3"/>
<circle cx="255.4" cy="1829.6" r="12.3" fill="#008000"/>
<circle cx="255.4" cy="1829.6" r="8.9" fill="none" stroke="#006c00" stroke-width="2.3"/>
<circle cx="366.5" cy="1741.1" r="12.3" fill="#005c00"/>
<circle cx="366.5" cy="1741.1" r="8.9" fill="none" stroke="#006a00" stroke-width="2.3"/>
<circle cx="389.0" cy="1745.8" r="12.3" fill="#005c00"/>
<circle cx="389.0" cy="1745.8" r="8.9" fill="none" stroke="#006a00" stroke-width="2.3"/>
<circle cx="390.1" cy="1795.6" r="12.3" fill="#000000" fill-opacity="0.49"/>
<circle cx="390.1" cy="1795.6" r="8.9" fill="none" stroke="#000000" stroke-opacity="0.49" stroke-width="2.3"/>
<circle cx="328.9" cy="1854.3" r="12.3" fill="#ffc21e"/>
<circle cx="328.9" cy="1854.3" r="8.9" fill="none" stroke="#ffb400" stroke-width="2.3"/>
<circle cx="368.0" cy="1845.7" r="12.3" fill="#5a4214"/>
<circle cx="368.0" cy="1845.7" r="8.9" fill="none" stroke="#2e2000" stroke-width="2.3"/>
<circle cx="383.7" cy="1859.6" r="12.3" fill="#3a2c08"/>
<circle cx="383.7" cy="1859.6" r="8.9" fill="none" stroke="#1a1400" stroke-width="2.3"/>
<circle cx="394.4" cy="1846.7" r="12.3" fill="#ffff00" fill-opacity="0.55"/>
<circle cx="394.4" cy="1846.7" r="8.9" fill="none" stroke="#ffff00" stroke-opacity="0.55" stroke-width="2.3"/>
<circle cx="369.7" cy="1897.2" r="12.3" fill="#0c5a22"/>
<circle cx="369.7" cy="1897.2" r="8.9" fill="none" stroke="#006400" stroke-width="2.3"/>
<circle cx="394.4" cy="1898.3" r="12.3" fill="#0000ff" fill-opacity="0.53"/>
<circle cx="394.4" cy="1898.3" r="8.9" fill="none" stroke="#0000ff" stroke-opacity="0.53" stroke-width="2.3"/>
<circle cx="435.4" cy="1755.4" r="12.3" fill="#2a7068"/>
<circle cx="435.4" cy="1755.4" r="8.9" fill="none" stroke="#0e6450" stroke-width="2.3"/>
<circle cx="554.4" cy="1744.7" r="12.3" fill="#000000" fill-opacity="0.36"/>
<circle cx="554.4" cy="1744.7" r="8.9" fill="none" stroke="#000000" stroke-opacity="0.36" stroke-width="2.3"/>
<circle cx="563.0" cy="1758.7" r="12.3" fill="#000000" fill-opacity="0.36"/>
<circle cx="563.0" cy="1758.7" r="8.9" fill="none" stroke="#000000" stroke-opacity="0.36" stroke-width="2.3"/>
<circle cx="495.6" cy="1808.1" r="12.3" fill="#ffc0cb"/>
<circle cx="466.4" cy="1820.5" r="12.3" fill="#0000ff"/>
<circle cx="466.4" cy="1820.5" r="8.9" fill="none" stroke="#0000e6" stroke-width="2.3"/>
<circle cx="511.0" cy="1831.7" r="12.3" fill="#0000ff"/>
<circle cx="511.0" cy="1831.7" r="8.9" fill="none" stroke="#0000e6" stroke-width="2.3"/>
<circle cx="514.3" cy="1844.6" r="12.3" fill="#0c5a22"/>
<circle cx="514.3" cy="1844.6" r="8.9" fill="none" stroke="#006400" stroke-width="2.3"/>
<circle cx="544.3" cy="1851.5" r="12.3" fill="#008000"/>
<circle cx="544.3" cy="1851.5" r="8.9" fill="none" stroke="#006c00" stroke-width="2.3"/>
<circle cx="543.7" cy="1867.8" r="12.3" fill="#0a840a"/>
<circle cx="543.7" cy="1867.8" r="8.9" fill="none" stroke="#007000" stroke-width="2.3"/>
<circle cx="427.3" cy="1842.9" r="12.3" fill="#008000"/>
<circle cx="427.3" cy="1842.9" r="8.9" fill="none" stroke="#006c00" stroke-width="2.3"/>
<circle cx="448.3" cy="1845.7" r="12.3" fill="#005c00"/>
<circle cx="448.3" cy="1845.7" r="8.9" fill="none" stroke="#006a00" stroke-width="2.3"/>
<circle cx="427.3" cy="1858.6" r="12.3" fill="#008000"/>
<circle cx="427.3" cy="1858.6" r="8.9" fill="none" stroke="#006c00" stroke-width="2.3"/>
<circle cx="456.3" cy="1868.2" r="12.3" fill="#ffc0cb" fill-opacity="0.71"/>
<circle cx="456.3" cy="1868.2" r="8.9" fill="none" stroke="#ffc0cb" stroke-opacity="0.71" stroke-width="2.3"/>
<circle cx="476.7" cy="1868.2" r="12.3" fill="#ffc21e"/>
<circle cx="476.7" cy="1868.2" r="8.9" fill="none" stroke="#ffb400" stroke-width="2.3"/>
<circle cx="471.3" cy="1866.1" r="12.3" fill="#3a2c08"/>
<circle cx="471.3" cy="1866.1" r="8.9" fill="none" stroke="#1a1400" stroke-width="2.3"/>
<circle cx="491.7" cy="1873.0" r="12.3" fill="#fff200"/>
<circle cx="491.7" cy="1873.0" r="8.9" fill="none" stroke="#f2d800" stroke-width="2.3"/>
<circle cx="572.3" cy="1888.6" r="12.3" fill="#008000"/>
<circle cx="572.3" cy="1888.6" r="8.9" fill="none" stroke="#006c00" stroke-width="2.3"/>
<circle cx="412.2" cy="1889.7" r="12.3" fill="#0c5a22"/>
<circle cx="412.2" cy="1889.7" r="8.9" fill="none" stroke="#006400" stroke-width="2.3"/>
<circle cx="419.7" cy="1904.7" r="12.3" fill="#0c5a22"/>
<circle cx="419.7" cy="1904.7" r="8.9" fill="none" stroke="#006400" stroke-width="2.3"/>
<circle cx="444.4" cy="1908.0" r="12.3" fill="#2e5e12"/>
<circle cx="444.4" cy="1908.0" r="8.9" fill="none" stroke="#1a6a10" stroke-width="2.3"/>
<circle cx="431.6" cy="1914.4" r="12.3" fill="#0c5a22"/>
<circle cx="431.6" cy="1914.4" r="8.9" fill="none" stroke="#006400" stroke-width="2.3"/>
<circle cx="497.7" cy="1895.1" r="12.3" fill="#2a7068"/>
<circle cx="497.7" cy="1895.1" r="8.9" fill="none" stroke="#0e6450" stroke-width="2.3"/>
<circle cx="482.7" cy="1905.8" r="12.3" fill="#1a4a10"/>
<circle cx="482.7" cy="1905.8" r="8.9" fill="none" stroke="#207020" stroke-width="2.3"/>
<circle cx="520.7" cy="1900.5" r="12.3" fill="#0000ff" fill-opacity="0.53"/>
<circle cx="520.7" cy="1900.5" r="8.9" fill="none" stroke="#0000ff" stroke-opacity="0.53" stroke-width="2.3"/>
<circle cx="543.3" cy="1912.3" r="12.3" fill="#0c5a22"/>
<circle cx="543.3" cy="1912.3" r="8.9" fill="none" stroke="#006400" stroke-width="2.3"/>
<circle cx="566.9" cy="1914.4" r="12.3" fill="#0c5a22"/>
<circle cx="566.9" cy="1914.4" r="8.9" fill="none" stroke="#006400" stroke-width="2.3"/>
<circle cx="643.4" cy="1906.5" r="12.3" fill="#008000"/>
<circle cx="643.4" cy="1906.5" r="8.9" fill="none" stroke="#006c00" stroke-width="2.3"/>
<circle cx="633.5" cy="1933.6" r="12.3" fill="#008000"/>
<circle cx="633.5" cy="1933.6" r="8.9" fill="none" stroke="#006c00" stroke-width="2.3"/>
<circle cx="570.3" cy="1954.4" r="12.3" fill="#101010"/>
<circle cx="570.3" cy="1954.4" r="8.9" fill="none" stroke="#000000" stroke-width="2.3"/>
<circle cx="339.6" cy="1923.2" r="12.3" fill="#000000" fill-opacity="0.49"/>
<circle cx="339.6" cy="1923.2" r="8.9" fill="none" stroke="#000000" stroke-opacity="0.49" stroke-width="2.3"/>
<circle cx="351.5" cy="1935.4" r="12.3" fill="#000000" fill-opacity="0.49"/>
<circle cx="351.5" cy="1935.4" r="8.9" fill="none" stroke="#000000" stroke-opacity="0.49" stroke-width="2.3"/>
<circle cx="363.3" cy="1927.9" r="12.3" fill="#008000"/>
<circle cx="363.3" cy="1927.9" r="8.9" fill="none" stroke="#006c00" stroke-width="2.3"/>
<circle cx="432.6" cy="1941.9" r="12.3" fill="#ffff00" fill-opacity="0.55"/>
<circle cx="432.6" cy="1941.9" r="8.9" fill="none" stroke="#ffff00" stroke-opacity="0.55" stroke-width="2.3"/>
<circle cx="429.0" cy="1984.9" r="12.3" fill="#ffb83c"/>
<circle cx="429.0" cy="1984.9" r="8.9" fill="none" stroke="#ffac28" stroke-width="2.3"/>
<circle cx="431.6" cy="1969.2" r="12.3" fill="#0000ff" fill-opacity="0.53"/>
<circle cx="431.6" cy="1969.2" r="8.9" fill="none" stroke="#0000ff" stroke-opacity="0.53" stroke-width="2.3"/>
<circle cx="439.7" cy="1964.0" r="12.3" fill="#0c5a22"/>
<circle cx="439.7" cy="1964.0" r="8.9" fill="none" stroke="#006400" stroke-width="2.3"/>
<circle cx="455.2" cy="1968.3" r="12.3" fill="#101010"/>
<circle cx="455.2" cy="1968.3" r="8.9" fill="none" stroke="#000000" stroke-width="2.3"/>
<circle cx="477.7" cy="1979.5" r="12.3" fill="#0000ff" fill-opacity="0.53"/>
<circle cx="477.7" cy="1979.5" r="8.9" fill="none" stroke="#0000ff" stroke-opacity="0.53" stroke-width="2.3"/>
<circle cx="472.4" cy="1963.4" r="12.3" fill="#0000ff"/>
<circle cx="472.4" cy="1963.4" r="8.9" fill="none" stroke="#0000e6" stroke-width="2.3"/>
<circle cx="481.0" cy="1923.6" r="12.3" fill="#000000" fill-opacity="0.75"/>
<circle cx="481.0" cy="1923.6" r="8.9" fill="none" stroke="#000000" stroke-opacity="0.75" stroke-width="2.3"/>
<circle cx="497.1" cy="1923.6" r="12.3" fill="#ffc21e"/>
<circle cx="497.1" cy="1923.6" r="8.9" fill="none" stroke="#ffb400" stroke-width="2.3"/>
<circle cx="485.3" cy="1935.4" r="12.3" fill="#3a2c08"/>
<circle cx="485.3" cy="1935.4" r="8.9" fill="none" stroke="#1a1400" stroke-width="2.3"/>
<circle cx="499.2" cy="1934.4" r="12.3" fill="#0a840a"/>
<circle cx="499.2" cy="1934.4" r="8.9" fill="none" stroke="#007000" stroke-width="2.3"/>
<circle cx="508.9" cy="1941.9" r="12.3" fill="#000000" fill-opacity="0.75"/>
<circle cx="508.9" cy="1941.9" r="8.9" fill="none" stroke="#000000" stroke-opacity="0.75" stroke-width="2.3"/>
<circle cx="522.9" cy="1952.6" r="12.3" fill="#101010"/>
<circle cx="522.9" cy="1952.6" r="8.9" fill="none" stroke="#000000" stroke-width="2.3"/>
<circle cx="491.7" cy="1970.9" r="12.3" fill="#000000" fill-opacity="0.75"/>
<circle cx="491.7" cy="1970.9" r="8.9" fill="none" stroke="#000000" stroke-opacity="0.75" stroke-width="2.3"/>
<circle cx="487.4" cy="1954.8" r="12.3" fill="#0c5a22"/>
<circle cx="487.4" cy="1954.8" r="8.9" fill="none" stroke="#006400" stroke-width="2.3"/>
<circle cx="500.3" cy="1959.1" r="12.3" fill="#2a7068"/>
<circle cx="500.3" cy="1959.1" r="8.9" fill="none" stroke="#0e6450" stroke-width="2.3"/>
<circle cx="506.7" cy="1975.2" r="12.3" fill="#2e5e12"/>
<circle cx="506.7" cy="1975.2" r="8.9" fill="none" stroke="#1a6a10" stroke-width="2.3"/>
<circle cx="534.7" cy="1980.6" r="12.3" fill="#ffc0cb" fill-opacity="0.71"/>
<circle cx="534.7" cy="1980.6" r="8.9" fill="none" stroke="#ffc0cb" stroke-opacity="0.71" stroke-width="2.3"/>
<circle cx="562.6" cy="1968.7" r="12.3" fill="#ffc0cb" fill-opacity="0.71"/>
<circle cx="562.6" cy="1968.7" r="8.9" fill="none" stroke="#ffc0cb" stroke-opacity="0.71" stroke-width="2.3"/>
<circle cx="573.3" cy="1985.9" r="12.3" fill="#ffc0cb" fill-opacity="0.71"/>
<circle cx="573.3" cy="1985.9" r="8.9" fill="none" stroke="#ffc0cb" stroke-opacity="0.71" stroke-width="2.3"/>
<circle cx="542.2" cy="1973.0" r="12.3" fill="#008000"/>
<circle cx="542.2" cy="1973.0" r="8.9" fill="none" stroke="#006c00" stroke-width="2.3"/>
<circle cx="536.4" cy="2001.0" r="12.3" fill="#0000ff" fill-opacity="0.53"/>
<circle cx="536.4" cy="2001.0" r="8.9" fill="none" stroke="#0000ff" stroke-opacity="0.53" stroke-width="2.3"/>
<circle cx="556.2" cy="2010.6" r="12.3" fill="#ffc0cb" fill-opacity="0.71"/>
<circle cx="556.2" cy="2010.6" r="8.9" fill="none" stroke="#ffc0cb" stroke-opacity="0.71" stroke-width="2.3"/>
<circle cx="575.5" cy="2016.0" r="12.3" fill="#0000ff"/>
<circle cx="575.5" cy="2016.0" r="8.9" fill="none" stroke="#0000e6" stroke-width="2.3"/>
<circle cx="450.9" cy="2030.0" r="12.3" fill="#000000" fill-opacity="0.75"/>
<circle cx="450.9" cy="2030.0" r="8.9" fill="none" stroke="#000000" stroke-opacity="0.75" stroke-width="2.3"/>
<circle cx="517.5" cy="2028.5" r="12.3" fill="#000000" fill-opacity="0.75"/>
<circle cx="517.5" cy="2028.5" r="8.9" fill="none" stroke="#000000" stroke-opacity="0.75" stroke-width="2.3"/>
<circle cx="527.2" cy="2026.7" r="12.3" fill="#008000" fill-opacity="0.75"/>
<circle cx="527.2" cy="2026.7" r="8.9" fill="none" stroke="#008000" stroke-opacity="0.75" stroke-width="2.3"/>
<circle cx="559.4" cy="2031.5" r="12.3" fill="#3a2c08"/>
<circle cx="559.4" cy="2031.5" r="8.9" fill="none" stroke="#1a1400" stroke-width="2.3"/>
<circle cx="573.3" cy="2046.1" r="12.3" fill="#0000ff" fill-opacity="0.53"/>
<circle cx="573.3" cy="2046.1" r="8.9" fill="none" stroke="#0000ff" stroke-opacity="0.53" stroke-width="2.3"/>
<circle cx="471.3" cy="2050.4" r="12.3" fill="#5a4214"/>
<circle cx="471.3" cy="2050.4" r="8.9" fill="none" stroke="#2e2000" stroke-width="2.3"/>
<circle cx="527.8" cy="2061.5" r="12.3" fill="#8a6a30"/>
<circle cx="527.8" cy="2061.5" r="8.9" fill="none" stroke="#604610" stroke-width="2.3"/>
<circle cx="491.7" cy="2072.9" r="12.3" fill="#8a6a30"/>
<circle cx="491.7" cy="2072.9" r="8.9" fill="none" stroke="#604610" stroke-width="2.3"/>
<circle cx="506.7" cy="2086.9" r="12.3" fill="#8a6a30"/>
<circle cx="506.7" cy="2086.9" r="8.9" fill="none" stroke="#604610" stroke-width="2.3"/>
<circle cx="431.6" cy="2083.7" r="12.3" fill="#2e5e12"/>
<circle cx="431.6" cy="2083.7" r="8.9" fill="none" stroke="#1a6a10" stroke-width="2.3"/>
<circle cx="576.6" cy="2060.0" r="12.3" fill="#3a2c08"/>
<circle cx="576.6" cy="2060.0" r="8.9" fill="none" stroke="#1a1400" stroke-width="2.3"/>
<circle cx="556.2" cy="2063.3" r="12.3" fill="#3a2c08"/>
<circle cx="556.2" cy="2063.3" r="8.9" fill="none" stroke="#1a1400" stroke-width="2.3"/>
<circle cx="549.7" cy="2074.0" r="12.3" fill="#0a840a"/>
<circle cx="549.7" cy="2074.0" r="8.9" fill="none" stroke="#007000" stroke-width="2.3"/>
<circle cx="560.5" cy="2076.2" r="12.3" fill="#0a840a"/>
<circle cx="560.5" cy="2076.2" r="8.9" fill="none" stroke="#007000" stroke-width="2.3"/>
<circle cx="573.3" cy="2086.9" r="12.3" fill="#3a2c08"/>
<circle cx="573.3" cy="2086.9" r="8.9" fill="none" stroke="#1a1400" stroke-width="2.3"/>
<circle cx="584.1" cy="1994.1" r="12.3" fill="#008000" fill-opacity="0.75"/>
<circle cx="584.1" cy="1994.1" r="8.9" fill="none" stroke="#008000" stroke-opacity="0.75" stroke-width="2.3"/>
<circle cx="582.6" cy="2020.6" r="12.3" fill="#0000ff" fill-opacity="0.53"/>
<circle cx="582.6" cy="2020.6" r="8.9" fill="none" stroke="#0000ff" stroke-opacity="0.53" stroke-width="2.3"/>
<circle cx="600.8" cy="2039.2" r="12.3" fill="#000000" fill-opacity="0.75"/>
<circle cx="600.8" cy="2039.2" r="8.9" fill="none" stroke="#000000" stroke-opacity="0.75" stroke-width="2.3"/>
<circle cx="630.9" cy="2052.1" r="12.3" fill="#0000ff" fill-opacity="0.53"/>
<circle cx="630.9" cy="2052.1" r="8.9" fill="none" stroke="#0000ff" stroke-opacity="0.53" stroke-width="2.3"/>
<circle cx="613.7" cy="2052.1" r="12.3" fill="#0a840a"/>
<circle cx="613.7" cy="2052.1" r="8.9" fill="none" stroke="#007000" stroke-width="2.3"/>
<circle cx="581.1" cy="2061.4" r="12.3" fill="#5a4214"/>
<circle cx="581.1" cy="2061.4" r="8.9" fill="none" stroke="#2e2000" stroke-width="2.3"/>
<circle cx="624.4" cy="2076.4" r="12.3" fill="#5a4214"/>
<circle cx="624.4" cy="2076.4" r="8.9" fill="none" stroke="#2e2000" stroke-width="2.3"/>
<circle cx="609.8" cy="2086.1" r="12.3" fill="#000000" fill-opacity="0.75"/>
<circle cx="609.8" cy="2086.1" r="8.9" fill="none" stroke="#000000" stroke-opacity="0.75" stroke-width="2.3"/>
<circle cx="643.8" cy="2094.2" r="12.3" fill="#000000" fill-opacity="0.75"/>
<circle cx="643.8" cy="2094.2" r="8.9" fill="none" stroke="#000000" stroke-opacity="0.75" stroke-width="2.3"/>
<circle cx="562.1" cy="2075.3" r="12.3" fill="#008000"/>
<circle cx="562.1" cy="2075.3" r="8.9" fill="none" stroke="#006c00" stroke-width="2.3"/>
<circle cx="568.6" cy="2111.9" r="12.3" fill="#ffc0cb" fill-opacity="0.71"/>
<circle cx="568.6" cy="2111.9" r="8.9" fill="none" stroke="#ffc0cb" stroke-opacity="0.71" stroke-width="2.3"/>
<circle cx="586.9" cy="2102.2" r="12.3" fill="#0c5a22"/>
<circle cx="586.9" cy="2102.2" r="8.9" fill="none" stroke="#006400" stroke-width="2.3"/>
<circle cx="607.3" cy="2109.7" r="12.3" fill="#2e5e12"/>
<circle cx="607.3" cy="2109.7" r="8.9" fill="none" stroke="#1a6a10" stroke-width="2.3"/>
<circle cx="582.6" cy="2117.2" r="12.3" fill="#2e5e12"/>
<circle cx="582.6" cy="2117.2" r="8.9" fill="none" stroke="#1a6a10" stroke-width="2.3"/>
<circle cx="613.7" cy="2126.9" r="12.3" fill="#ffc0cb" fill-opacity="0.71"/>
<circle cx="613.7" cy="2126.9" r="8.9" fill="none" stroke="#ffc0cb" stroke-opacity="0.71" stroke-width="2.3"/>
<circle cx="636.3" cy="2119.4" r="12.3" fill="#000000" fill-opacity="0.75"/>
<circle cx="636.3" cy="2119.4" r="8.9" fill="none" stroke="#000000" stroke-opacity="0.75" stroke-width="2.3"/>
<circle cx="649.2" cy="2131.2" r="12.3" fill="#101010"/>
<circle cx="649.2" cy="2131.2" r="8.9" fill="none" stroke="#000000" stroke-width="2.3"/>
<circle cx="678.2" cy="2123.7" r="12.3" fill="#0000ff" fill-opacity="0.53"/>
<circle cx="678.2" cy="2123.7" r="8.9" fill="none" stroke="#0000ff" stroke-opacity="0.53" stroke-width="2.3"/>
<circle cx="680.3" cy="2122.6" r="12.3" fill="#000000" fill-opacity="0.75"/>
<circle cx="680.3" cy="2122.6" r="8.9" fill="none" stroke="#000000" stroke-opacity="0.75" stroke-width="2.3"/>
<circle cx="698.6" cy="2130.1" r="12.3" fill="#000000" fill-opacity="0.75"/>
<circle cx="698.6" cy="2130.1" r="8.9" fill="none" stroke="#000000" stroke-opacity="0.75" stroke-width="2.3"/>
<circle cx="720.0" cy="2044.2" r="12.3" fill="#ffc0cb" fill-opacity="0.71"/>
<circle cx="720.0" cy="2044.2" r="8.9" fill="none" stroke="#ffc0cb" stroke-opacity="0.71" stroke-width="2.3"/>
<circle cx="696.4" cy="2070.0" r="12.3" fill="#0000ff" fill-opacity="0.53"/>
<circle cx="696.4" cy="2070.0" r="8.9" fill="none" stroke="#0000ff" stroke-opacity="0.53" stroke-width="2.3"/>
<circle cx="706.1" cy="2085.0" r="12.3" fill="#0000ff" fill-opacity="0.53"/>
<circle cx="706.1" cy="2085.0" r="8.9" fill="none" stroke="#0000ff" stroke-opacity="0.53" stroke-width="2.3"/>
<circle cx="744.7" cy="2090.4" r="12.3" fill="#ffc0cb" fill-opacity="0.71"/>
<circle cx="744.7" cy="2090.4" r="8.9" fill="none" stroke="#ffc0cb" stroke-opacity="0.71" stroke-width="2.3"/>
<circle cx="740.5" cy="2114.4" r="12.3" fill="#0000ff" fill-opacity="0.53"/>
<circle cx="740.5" cy="2114.4" r="8.9" fill="none" stroke="#0000ff" stroke-opacity="0.53" stroke-width="2.3"/>
<circle cx="719.0" cy="2135.5" r="12.3" fill="#ffc0cb" fill-opacity="0.71"/>
<circle cx="719.0" cy="2135.5" r="8.9" fill="none" stroke="#ffc0cb" stroke-opacity="0.71" stroke-width="2.3"/>
<circle cx="612.6" cy="2138.7" r="12.3" fill="#008000"/>
<circle cx="612.6" cy="2138.7" r="8.9" fill="none" stroke="#006c00" stroke-width="2.3"/>
<circle cx="502.9" cy="2108.4" r="12.3" fill="#0c5a22"/>
<circle cx="502.9" cy="2108.4" r="8.9" fill="none" stroke="#006400" stroke-width="2.3"/>
<circle cx="428.7" cy="2150.5" r="12.3" fill="#4a6a48"/>
<circle cx="428.7" cy="2150.5" r="8.9" fill="none" stroke="#245a28" stroke-width="2.3"/>
<circle cx="495.8" cy="2165.9" r="12.3" fill="#6a8a68"/>
<circle cx="495.8" cy="2165.9" r="8.9" fill="none" stroke="#3a7040" stroke-width="2.3"/>
<circle cx="553.3" cy="2125.1" r="12.3" fill="#0000ff" fill-opacity="0.53"/>
<circle cx="553.3" cy="2125.1" r="8.9" fill="none" stroke="#0000ff" stroke-opacity="0.53" stroke-width="2.3"/>
<circle cx="636.7" cy="2136.5" r="12.3" fill="#0000ff" fill-opacity="0.53"/>
<circle cx="636.7" cy="2136.5" r="8.9" fill="none" stroke="#0000ff" stroke-opacity="0.53" stroke-width="2.3"/>
<circle cx="714.0" cy="2151.6" r="12.3" fill="#0000ff" fill-opacity="0.53"/>
<circle cx="714.0" cy="2151.6" r="8.9" fill="none" stroke="#0000ff" stroke-opacity="0.53" stroke-width="2.3"/>
<circle cx="732.3" cy="2162.3" r="12.3" fill="#000000" fill-opacity="0.75"/>
<circle cx="732.3" cy="2162.3" r="8.9" fill="none" stroke="#000000" stroke-opacity="0.75" stroke-width="2.3"/>
<circle cx="681.8" cy="2163.4" r="12.3" fill="#0000ff" fill-opacity="0.53"/>
<circle cx="681.8" cy="2163.4" r="8.9" fill="none" stroke="#0000ff" stroke-opacity="0.53" stroke-width="2.3"/>
<circle cx="574.4" cy="2148.3" r="12.3" fill="#8a6a30"/>
<circle cx="574.4" cy="2148.3" r="8.9" fill="none" stroke="#604610" stroke-width="2.3"/>
<circle cx="566.9" cy="2168.7" r="12.3" fill="#8a8050"/>
<circle cx="566.9" cy="2168.7" r="8.9" fill="none" stroke="#786a40" stroke-width="2.3"/>
<circle cx="574.4" cy="2153.7" r="12.3" fill="#2e5e12"/>
<circle cx="574.4" cy="2153.7" r="8.9" fill="none" stroke="#1a6a10" stroke-width="2.3"/>
<circle cx="588.3" cy="2164.4" r="12.3" fill="#2e5e12"/>
<circle cx="588.3" cy="2164.4" r="8.9" fill="none" stroke="#1a6a10" stroke-width="2.3"/>
<circle cx="596.9" cy="2155.9" r="12.3" fill="#8a6a30"/>
<circle cx="596.9" cy="2155.9" r="8.9" fill="none" stroke="#604610" stroke-width="2.3"/>
<circle cx="613.0" cy="2179.5" r="12.3" fill="#8a6a30"/>
<circle cx="613.0" cy="2179.5" r="8.9" fill="none" stroke="#604610" stroke-width="2.3"/>
<circle cx="656.0" cy="2173.0" r="12.3" fill="#8a6a30"/>
<circle cx="656.0" cy="2173.0" r="8.9" fill="none" stroke="#604610" stroke-width="2.3"/>
<circle cx="660.3" cy="2156.9" r="12.3" fill="#8cc88c"/>
<circle cx="660.3" cy="2156.9" r="8.9" fill="none" stroke="#68b468" stroke-width="2.3"/>
<circle cx="613.0" cy="2147.3" r="12.3" fill="#008000"/>
<circle cx="613.0" cy="2147.3" r="8.9" fill="none" stroke="#006c00" stroke-width="2.3"/>
<circle cx="635.6" cy="2153.7" r="12.3" fill="#008000"/>
<circle cx="635.6" cy="2153.7" r="8.9" fill="none" stroke="#006c00" stroke-width="2.3"/>
<circle cx="614.1" cy="2167.7" r="12.3" fill="#0a840a"/>
<circle cx="614.1" cy="2167.7" r="8.9" fill="none" stroke="#007000" stroke-width="2.3"/>
<circle cx="649.6" cy="2166.6" r="12.3" fill="#008000"/>
<circle cx="649.6" cy="2166.6" r="8.9" fill="none" stroke="#006c00" stroke-width="2.3"/>
<circle cx="566.9" cy="2199.2" r="12.3" fill="#3a2c08"/>
<circle cx="566.9" cy="2199.2" r="8.9" fill="none" stroke="#1a1400" stroke-width="2.3"/>
<circle cx="593.7" cy="2201.0" r="12.3" fill="#0c5a22"/>
<circle cx="593.7" cy="2201.0" r="8.9" fill="none" stroke="#006400" stroke-width="2.3"/>
<circle cx="616.9" cy="2206.3" r="12.3" fill="#0c5a22"/>
<circle cx="616.9" cy="2206.3" r="8.9" fill="none" stroke="#006400" stroke-width="2.3"/>
<circle cx="699.4" cy="2212.1" r="12.3" fill="#0c5a22"/>
<circle cx="699.4" cy="2212.1" r="8.9" fill="none" stroke="#006400" stroke-width="2.3"/>
<circle cx="802.4" cy="2107.0" r="12.3" fill="#0c5a22"/>
<circle cx="802.4" cy="2107.0" r="8.9" fill="none" stroke="#006400" stroke-width="2.3"/>
<circle cx="752.1" cy="2179.1" r="12.3" fill="#5a4214"/>
<circle cx="752.1" cy="2179.1" r="8.9" fill="none" stroke="#2e2000" stroke-width="2.3"/>
<circle cx="835.1" cy="2167.1" r="12.3" fill="#0000ff" fill-opacity="0.53"/>
<circle cx="835.1" cy="2167.1" r="8.9" fill="none" stroke="#0000ff" stroke-opacity="0.53" stroke-width="2.3"/>
<circle cx="910.5" cy="2162.9" r="12.3" fill="#0000ff"/>
<circle cx="910.5" cy="2162.9" r="8.9" fill="none" stroke="#0000e6" stroke-width="2.3"/>
<circle cx="956.0" cy="2176.3" r="12.3" fill="#0000ff"/>
<circle cx="956.0" cy="2176.3" r="8.9" fill="none" stroke="#0000e6" stroke-width="2.3"/>
<circle cx="863.8" cy="2204.2" r="12.3" fill="#000000" fill-opacity="0.75"/>
<circle cx="863.8" cy="2204.2" r="8.9" fill="none" stroke="#000000" stroke-opacity="0.75" stroke-width="2.3"/>
<circle cx="817.7" cy="2227.7" r="12.3" fill="#5a4214"/>
<circle cx="817.7" cy="2227.7" r="8.9" fill="none" stroke="#2e2000" stroke-width="2.3"/>
<circle cx="946.8" cy="2230.5" r="12.3" fill="#005c00"/>
<circle cx="946.8" cy="2230.5" r="8.9" fill="none" stroke="#006a00" stroke-width="2.3"/>
<text x="84.1" y="1479.9" font-family="DejaVu Sans, Liberation Sans, sans-serif" font-size="54.00">The optimal value of the iterative process</text>
<rect x="925.7" y="1434.5" width="503.8" height="408.1" rx="9.0" fill="#fff" fill-opacity="0.8" stroke="#ccc" stroke-opacity="0.8" stroke-width="4.5"/>
<circle cx="988.8" cy="1474.1" r="10.1" fill="#ffc0cb" stroke="#ffc0cb" stroke-width="4.5"/>
<text x="1068.7" y="1485.7" font-family="DejaVu Sans, Liberation Sans, sans-serif" font-size="45.0">iteration = 0</text>
<circle cx="988.8" cy="1540.0" r="10.1" fill="#0000ff" stroke="#0000ff" stroke-width="4.5"/>
<text x="1068.7" y="1551.6" font-family="DejaVu Sans, Liberation Sans, sans-serif" font-size="45.0">iteration = 20</text>
<circle cx="988.8" cy="1606.0" r="10.1" fill="#008000" stroke="#008000" stroke-width="4.5"/>
<text x="1068.7" y="1617.5" font-family="DejaVu Sans, Liberation Sans, sans-serif" font-size="45.0">iteration = 40</text>
<circle cx="988.8" cy="1671.9" r="10.1" fill="#ff0000" stroke="#ff0000" stroke-width="4.5"/>
<text x="1068.7" y="1683.4" font-family="DejaVu Sans, Liberation Sans, sans-serif" font-size="45.0">iteration = 60</text>
<circle cx="988.8" cy="1737.8" r="10.1" fill="#ffff00" stroke="#ffff00" stroke-width="4.5"/>
<text x="1068.7" y="1749.3" font-family="DejaVu Sans, Liberation Sans, sans-serif" font-size="45.0">iteration = 80</text>
<circle cx="988.8" cy="1803.7" r="10.1" fill="#000000" stroke="#000000" stroke-width="4.5"/>
<text x="1068.7" y="1815.3" font-family="DejaVu Sans, Liberation Sans, sans-serif" font-size="45.0">iteration = 100</text>
</g>
<text x="522.8" y="2736.3" font-family="Liberation Serif, serif" font-size="87.0" textLength="452.2" lengthAdjust="spacingAndGlyphs">(<tspan font-weight="bold">b</tspan>) NSGA-II</text>
<clipPath id="c3"><rect x="0.0" y="2790.0" width="1484.0" height="1244.7"/></clipPath>
<g clip-path="url(#c3)">
<polygon points="66.6,3747.3 523.9,3455.6 516.3,2898.2 33.5,3160.3" fill="rgb(242,242,242)" fill-opacity="0.5" stroke="rgb(242,242,242)" stroke-opacity="0.5" stroke-width="4.5" stroke-linejoin="miter"/>
<polygon points="523.9,3455.6 1264.7,3618.7 1295.7,3044.5 516.3,2898.2" fill="rgb(230,230,230)" fill-opacity="0.5" stroke="rgb(230,230,230)" stroke-opacity="0.5" stroke-width="4.5" stroke-linejoin="miter"/>
<polygon points="66.6,3747.3 846.0,3937.3 1264.7,3618.7 523.9,3455.6" fill="rgb(236,236,236)" fill-opacity="0.5" stroke="rgb(236,236,236)" stroke-opacity="0.5" stroke-width="4.5" stroke-linejoin="miter"/>
<path d="M66.6 3747.3 L846.0 3937.3" stroke="#000" stroke-width="4.1" fill="none" stroke-linecap="butt"/>
<path d="M96.4 3754.6 L552.4 3461.9 L546.2 2903.8 M185.1 3776.2 L636.9 3480.5 L634.9 2920.5 M274.7 3798.0 L722.2 3499.3 L724.6 2937.3 M365.2 3820.1 L808.3 3518.2 L815.1 2954.3 M456.7 3842.4 L895.4 3537.4 L906.7 2971.5 M549.3 3865.0 L983.3 3556.7 L999.2 2988.8 M642.8 3887.7 L1072.1 3576.3 L1092.7 3006.4 M737.4 3910.8 L1161.7 3596.0 L1187.2 3024.1" stroke="#b0b0b0" stroke-width="3.3" fill="none" stroke-linejoin="miter"/>
<path d="M101.1 3751.6 L87.0 3760.7 M189.7 3773.2 L175.7 3782.3 M279.3 3794.9 L265.4 3804.2 M369.8 3817.0 L356.0 3826.4 M461.3 3839.3 L447.6 3848.7 M553.8 3861.8 L540.3 3871.4 M647.2 3884.5 L633.9 3894.2 M741.8 3907.5 L728.5 3917.3" stroke="#000" stroke-width="3.2" fill="none"/>
<path d="M1264.7 3618.7 L846.0 3937.3" stroke="#000" stroke-width="4.1" fill="none" stroke-linecap="butt"/>
<path d="M59.9 3145.9 L91.5 3731.4 L868.9 3919.8 M121.7 3112.4 L149.9 3694.2 L922.5 3879.1 M182.4 3079.5 L207.3 3657.6 L975.1 3839.1 M241.9 3047.2 L263.5 3621.7 L1026.7 3799.8 M300.2 3015.5 L318.8 3586.4 L1077.3 3761.3 M357.5 2984.4 L373.1 3551.8 L1127.0 3723.5 M413.7 2953.9 L426.5 3517.8 L1175.8 3686.4 M468.9 2923.9 L478.9 3484.3 L1223.7 3650.0" stroke="#b0b0b0" stroke-width="3.3" fill="none" stroke-linejoin="miter"/>
<path d="M861.1 3917.9 L884.6 3923.6 M914.8 3877.2 L938.1 3882.8 M967.4 3837.2 L990.6 3842.7 M1019.1 3798.0 L1042.0 3803.4 M1069.7 3759.5 L1092.6 3764.8 M1119.5 3721.8 L1142.1 3726.9 M1168.3 3684.7 L1190.8 3689.8 M1216.2 3648.3 L1238.6 3653.3" stroke="#000" stroke-width="3.2" fill="none"/>
<path d="M1264.7 3618.7 L1295.7 3044.5" stroke="#000" stroke-width="4.1" fill="none" stroke-linecap="butt"/>
<path d="M1265.6 3603.0 L523.7 3440.4 L65.7 3731.3 M1270.8 3506.5 L522.4 3346.5 L60.1 3632.8 M1276.1 3408.2 L521.1 3251.0 L54.4 3532.4 M1281.5 3308.2 L519.8 3153.9 L48.7 3430.2 M1287.0 3206.4 L518.4 3055.1 L42.8 3326.0 M1292.6 3102.7 L517.1 2954.6 L36.8 3219.9" stroke="#b0b0b0" stroke-width="3.3" fill="none" stroke-linejoin="miter"/>
<path d="M1258.2 3601.4 L1280.5 3606.3 M1263.3 3504.9 L1285.8 3509.7 M1268.5 3406.7 L1291.2 3411.4 M1273.9 3306.7 L1296.8 3311.3 M1279.3 3204.9 L1302.4 3209.4 M1284.8 3101.2 L1308.2 3105.7" stroke="#000" stroke-width="3.2" fill="none"/>
<g font-family="DejaVu Sans, Liberation Sans, sans-serif" fill="#000"><text x="63.7" y="3850.6" text-anchor="middle" font-size="44.8">0</text><text x="152.3" y="3872.6" text-anchor="middle" font-size="44.8">5</text><text x="241.9" y="3894.8" text-anchor="middle" font-size="44.8">10</text><text x="332.4" y="3917.2" text-anchor="middle" font-size="44.8">15</text><text x="424.0" y="3939.9" text-anchor="middle" font-size="44.8">20</text><text x="516.5" y="3962.9" text-anchor="middle" font-size="44.8">25</text><text x="610.0" y="3986.0" text-anchor="middle" font-size="44.8">30</text><text x="704.6" y="4009.5" text-anchor="middle" font-size="44.8">35</text><text transform="translate(376.0 3978.3) rotate(13.70)" x="0" y="12.4" text-anchor="middle" font-size="44.8">The objective function 1</text><text x="925.8" y="4008.3" text-anchor="middle" font-size="44.8">660</text><text x="978.9" y="3967.0" text-anchor="middle" font-size="44.8">680</text><text x="1030.9" y="3926.5" text-anchor="middle" font-size="44.8">700</text><text x="1081.9" y="3886.8" text-anchor="middle" font-size="44.8">720</text><text x="1132.0" y="3847.8" text-anchor="middle" font-size="44.8">740</text><text x="1181.1" y="3809.5" text-anchor="middle" font-size="44.8">760</text><text x="1229.4" y="3772.0" text-anchor="middle" font-size="44.8">780</text><text x="1276.7" y="3735.1" text-anchor="middle" font-size="44.8">800</text><text transform="translate(1182.6 3886.0) rotate(-37.27)" x="0" y="12.4" text-anchor="middle" font-size="44.8">The objective function 2</text><text x="1347.7" y="3628.3" text-anchor="middle" font-size="44.8">25</text><text x="1353.6" y="3531.9" text-anchor="middle" font-size="44.8">30</text><text x="1359.7" y="3433.8" text-anchor="middle" font-size="44.8">35</text><text x="1365.8" y="3333.9" text-anchor="middle" font-size="44.8">40</text><text x="1372.1" y="3232.3" text-anchor="middle" font-size="44.8">45</text><text x="1378.4" y="3128.7" text-anchor="middle" font-size="44.8">50</text><text transform="translate(1462.2 3320.8) rotate(-86.91)" x="0" y="12.4" text-anchor="middle" font-size="44.8">The objective function 3</text></g>
<circle cx="656.2" cy="3522.5" r="12.3" fill="#fff200"/>
<circle cx="656.2" cy="3522.5" r="8.9" fill="none" stroke="#f2d800" stroke-width="2.2"/>
<circle cx="673.4" cy="3520.8" r="12.3" fill="#fff200"/>
<circle cx="673.4" cy="3520.8" r="8.9" fill="none" stroke="#f2d800" stroke-width="2.2"/>
<circle cx="690.6" cy="3524.2" r="12.3" fill="#fff200"/>
<circle cx="690.6" cy="3524.2" r="8.9" fill="none" stroke="#f2d800" stroke-width="2.2"/>
<circle cx="707.8" cy="3527.6" r="12.3" fill="#fff200"/>
<circle cx="707.8" cy="3527.6" r="8.9" fill="none" stroke="#f2d800" stroke-width="2.2"/>
<circle cx="725.0" cy="3532.8" r="12.3" fill="#fff200"/>
<circle cx="725.0" cy="3532.8" r="8.9" fill="none" stroke="#f2d800" stroke-width="2.2"/>
<circle cx="742.2" cy="3539.7" r="12.3" fill="#fff200"/>
<circle cx="742.2" cy="3539.7" r="8.9" fill="none" stroke="#f2d800" stroke-width="2.2"/>
<circle cx="759.4" cy="3550.0" r="12.3" fill="#fff200"/>
<circle cx="759.4" cy="3550.0" r="8.9" fill="none" stroke="#f2d800" stroke-width="2.2"/>
<circle cx="766.2" cy="3563.7" r="12.3" fill="#fff200"/>
<circle cx="766.2" cy="3563.7" r="8.9" fill="none" stroke="#f2d800" stroke-width="2.2"/>
<circle cx="611.6" cy="3505.3" r="12.3" fill="#fff200"/>
<circle cx="611.6" cy="3505.3" r="8.9" fill="none" stroke="#f2d800" stroke-width="2.2"/>
<circle cx="628.7" cy="3508.7" r="12.3" fill="#fff200"/>
<circle cx="628.7" cy="3508.7" r="8.9" fill="none" stroke="#f2d800" stroke-width="2.2"/>
<circle cx="313.9" cy="3109.8" r="12.3" fill="#0000ff" fill-opacity="0.69"/>
<circle cx="313.9" cy="3109.8" r="8.9" fill="none" stroke="#0000ff" stroke-opacity="0.69" stroke-width="2.2"/>
<circle cx="346.6" cy="3148.4" r="12.3" fill="#0000ff" fill-opacity="0.69"/>
<circle cx="346.6" cy="3148.4" r="8.9" fill="none" stroke="#0000ff" stroke-opacity="0.69" stroke-width="2.2"/>
<circle cx="338.8" cy="3141.6" r="12.3" fill="#0000ff" fill-opacity="0.84"/>
<circle cx="338.8" cy="3141.6" r="8.9" fill="none" stroke="#0000ff" stroke-opacity="0.84" stroke-width="2.2"/>
<circle cx="336.2" cy="3133.0" r="12.3" fill="#0000ff" fill-opacity="0.84"/>
<circle cx="336.2" cy="3133.0" r="8.9" fill="none" stroke="#0000ff" stroke-opacity="0.84" stroke-width="2.2"/>
<circle cx="341.4" cy="3120.9" r="12.3" fill="#0000ff" fill-opacity="0.84"/>
<circle cx="341.4" cy="3120.9" r="8.9" fill="none" stroke="#0000ff" stroke-opacity="0.84" stroke-width="2.2"/>
<circle cx="287.3" cy="3132.1" r="12.3" fill="#008000" fill-opacity="0.73"/>
<circle cx="287.3" cy="3132.1" r="8.9" fill="none" stroke="#008000" stroke-opacity="0.73" stroke-width="2.2"/>
<circle cx="300.2" cy="3152.7" r="12.3" fill="#ff0000" fill-opacity="0.72"/>
<circle cx="300.2" cy="3152.7" r="8.9" fill="none" stroke="#ff0000" stroke-opacity="0.72" stroke-width="2.2"/>
<circle cx="283.8" cy="3163.0" r="12.3" fill="#ffe000"/>
<circle cx="283.8" cy="3163.0" r="8.9" fill="none" stroke="#ffb000" stroke-width="2.2"/>
<circle cx="323.4" cy="3159.6" r="12.3" fill="#0000ff" fill-opacity="0.84"/>
<circle cx="323.4" cy="3159.6" r="8.9" fill="none" stroke="#0000ff" stroke-opacity="0.84" stroke-width="2.2"/>
<circle cx="303.6" cy="3172.1" r="12.3" fill="#b02818"/>
<circle cx="303.6" cy="3172.1" r="8.9" fill="none" stroke="#f01010" stroke-width="2.2"/>
<circle cx="328.5" cy="3172.5" r="12.3" fill="#d4d040"/>
<circle cx="328.5" cy="3172.5" r="8.9" fill="none" stroke="#ecec20" stroke-width="2.2"/>
<circle cx="372.3" cy="3165.6" r="12.3" fill="#0000ff" fill-opacity="0.84"/>
<circle cx="372.3" cy="3165.6" r="8.9" fill="none" stroke="#0000ff" stroke-opacity="0.84" stroke-width="2.2"/>
<circle cx="370.6" cy="3177.6" r="12.3" fill="#0000ff" fill-opacity="0.84"/>
<circle cx="370.6" cy="3177.6" r="8.9" fill="none" stroke="#0000ff" stroke-opacity="0.84" stroke-width="2.2"/>
<circle cx="337.1" cy="3188.8" r="12.3" fill="#1e7040"/>
<circle cx="337.1" cy="3188.8" r="8.9" fill="none" stroke="#107a20" stroke-width="2.2"/>
<circle cx="356.9" cy="3191.4" r="12.3" fill="#0000ff" fill-opacity="0.84"/>
<circle cx="356.9" cy="3191.4" r="8.9" fill="none" stroke="#0000ff" stroke-opacity="0.84" stroke-width="2.2"/>
<circle cx="298.4" cy="3189.7" r="12.3" fill="#ff0000" fill-opacity="0.72"/>
<circle cx="298.4" cy="3189.7" r="8.9" fill="none" stroke="#ff0000" stroke-opacity="0.72" stroke-width="2.2"/>
<circle cx="293.3" cy="3200.0" r="12.3" fill="#ffc21e"/>
<circle cx="293.3" cy="3200.0" r="8.9" fill="none" stroke="#ffb400" stroke-width="2.2"/>
<circle cx="316.5" cy="3189.7" r="12.3" fill="#ffff00" fill-opacity="0.77"/>
<circle cx="316.5" cy="3189.7" r="8.9" fill="none" stroke="#ffff00" stroke-opacity="0.77" stroke-width="2.2"/>
<circle cx="256.8" cy="3200.0" r="12.3" fill="#000000" fill-opacity="0.71"/>
<circle cx="256.8" cy="3200.0" r="8.9" fill="none" stroke="#000000" stroke-opacity="0.71" stroke-width="2.2"/>
<circle cx="280.9" cy="3206.9" r="12.3" fill="#000000" fill-opacity="0.71"/>
<circle cx="280.9" cy="3206.9" r="8.9" fill="none" stroke="#000000" stroke-opacity="0.71" stroke-width="2.2"/>
<circle cx="312.2" cy="3204.3" r="12.3" fill="#f8d200"/>
<circle cx="312.2" cy="3204.3" r="8.9" fill="none" stroke="#f8e000" stroke-width="2.2"/>
<circle cx="333.7" cy="3210.3" r="12.3" fill="#0000ff" fill-opacity="0.69"/>
<circle cx="333.7" cy="3210.3" r="8.9" fill="none" stroke="#0000ff" stroke-opacity="0.69" stroke-width="2.2"/>
<circle cx="377.5" cy="3208.6" r="12.3" fill="#0000ff" fill-opacity="0.84"/>
<circle cx="377.5" cy="3208.6" r="8.9" fill="none" stroke="#0000ff" stroke-opacity="0.84" stroke-width="2.2"/>
<circle cx="366.3" cy="3213.7" r="12.3" fill="#0000ff" fill-opacity="0.69"/>
<circle cx="366.3" cy="3213.7" r="8.9" fill="none" stroke="#0000ff" stroke-opacity="0.69" stroke-width="2.2"/>
<circle cx="275.2" cy="3230.9" r="12.3" fill="#008000" fill-opacity="0.73"/>
<circle cx="275.2" cy="3230.9" r="8.9" fill="none" stroke="#008000" stroke-opacity="0.73" stroke-width="2.2"/>
<circle cx="293.3" cy="3234.4" r="12.3" fill="#008000" fill-opacity="0.73"/>
<circle cx="293.3" cy="3234.4" r="8.9" fill="none" stroke="#008000" stroke-opacity="0.73" stroke-width="2.2"/>
<circle cx="302.7" cy="3236.1" r="12.3" fill="#000000" fill-opacity="0.71"/>
<circle cx="302.7" cy="3236.1" r="8.9" fill="none" stroke="#000000" stroke-opacity="0.71" stroke-width="2.2"/>
<circle cx="320.8" cy="3225.8" r="12.3" fill="#ffff00" fill-opacity="0.77"/>
<circle cx="320.8" cy="3225.8" r="8.9" fill="none" stroke="#ffff00" stroke-opacity="0.77" stroke-width="2.2"/>
<circle cx="343.1" cy="3226.6" r="12.3" fill="#0000ff" fill-opacity="0.69"/>
<circle cx="343.1" cy="3226.6" r="8.9" fill="none" stroke="#0000ff" stroke-opacity="0.69" stroke-width="2.2"/>
<circle cx="358.6" cy="3231.8" r="12.3" fill="#d4d040"/>
<circle cx="358.6" cy="3231.8" r="8.9" fill="none" stroke="#ecec20" stroke-width="2.2"/>
<circle cx="382.6" cy="3238.7" r="12.3" fill="#008000" fill-opacity="0.73"/>
<circle cx="382.6" cy="3238.7" r="8.9" fill="none" stroke="#008000" stroke-opacity="0.73" stroke-width="2.2"/>
<circle cx="333.7" cy="3245.5" r="12.3" fill="#ff0000" fill-opacity="0.72"/>
<circle cx="333.7" cy="3245.5" r="8.9" fill="none" stroke="#ff0000" stroke-opacity="0.72" stroke-width="2.2"/>
<circle cx="363.7" cy="3244.7" r="12.3" fill="#1e7040"/>
<circle cx="363.7" cy="3244.7" r="8.9" fill="none" stroke="#107a20" stroke-width="2.2"/>
<circle cx="368.9" cy="3247.3" r="12.3" fill="#ff0000" fill-opacity="0.72"/>
<circle cx="368.9" cy="3247.3" r="8.9" fill="none" stroke="#ff0000" stroke-opacity="0.72" stroke-width="2.2"/>
<circle cx="443.6" cy="3148.4" r="12.3" fill="#008000" fill-opacity="0.47"/>
<circle cx="443.6" cy="3148.4" r="8.9" fill="none" stroke="#008000" stroke-opacity="0.47" stroke-width="2.2"/>
<circle cx="478.8" cy="3132.1" r="12.3" fill="#ffc0cb" fill-opacity="0.71"/>
<circle cx="478.8" cy="3132.1" r="8.9" fill="none" stroke="#ffc0cb" stroke-opacity="0.71" stroke-width="2.2"/>
<circle cx="473.7" cy="3151.9" r="12.3" fill="#ffc0cb" fill-opacity="0.71"/>
<circle cx="473.7" cy="3151.9" r="8.9" fill="none" stroke="#ffc0cb" stroke-opacity="0.71" stroke-width="2.2"/>
<circle cx="479.7" cy="3147.6" r="12.3" fill="#7a9a5a"/>
<circle cx="479.7" cy="3147.6" r="8.9" fill="none" stroke="#309a30" stroke-width="2.2"/>
<circle cx="486.6" cy="3185.4" r="12.3" fill="#0000ff" fill-opacity="0.5"/>
<circle cx="486.6" cy="3185.4" r="8.9" fill="none" stroke="#0000ff" stroke-opacity="0.5" stroke-width="2.2"/>
<circle cx="474.5" cy="3192.3" r="12.3" fill="#0000ff" fill-opacity="0.5"/>
<circle cx="474.5" cy="3192.3" r="8.9" fill="none" stroke="#0000ff" stroke-opacity="0.5" stroke-width="2.2"/>
<circle cx="531.2" cy="3190.5" r="12.3" fill="#008000" fill-opacity="0.47"/>
<circle cx="531.2" cy="3190.5" r="8.9" fill="none" stroke="#008000" stroke-opacity="0.47" stroke-width="2.2"/>
<circle cx="531.2" cy="3213.7" r="12.3" fill="#ffc0cb" fill-opacity="0.71"/>
<circle cx="531.2" cy="3213.7" r="8.9" fill="none" stroke="#ffc0cb" stroke-opacity="0.71" stroke-width="2.2"/>
<circle cx="534.7" cy="3224.0" r="12.3" fill="#ffc0cb" fill-opacity="0.71"/>
<circle cx="534.7" cy="3224.0" r="8.9" fill="none" stroke="#ffc0cb" stroke-opacity="0.71" stroke-width="2.2"/>
<circle cx="505.5" cy="3221.5" r="12.3" fill="#008000" fill-opacity="0.47"/>
<circle cx="505.5" cy="3221.5" r="8.9" fill="none" stroke="#008000" stroke-opacity="0.47" stroke-width="2.2"/>
<circle cx="496.9" cy="3226.6" r="12.3" fill="#008000" fill-opacity="0.47"/>
<circle cx="496.9" cy="3226.6" r="8.9" fill="none" stroke="#008000" stroke-opacity="0.47" stroke-width="2.2"/>
<circle cx="405.8" cy="3225.8" r="12.3" fill="#0000ff" fill-opacity="0.69"/>
<circle cx="405.8" cy="3225.8" r="8.9" fill="none" stroke="#0000ff" stroke-opacity="0.69" stroke-width="2.2"/>
<circle cx="418.7" cy="3237.8" r="12.3" fill="#d4d040"/>
<circle cx="418.7" cy="3237.8" r="8.9" fill="none" stroke="#ecec20" stroke-width="2.2"/>
<circle cx="625.3" cy="3137.7" r="12.3" fill="#ffc0cb" fill-opacity="0.51"/>
<circle cx="625.3" cy="3137.7" r="8.9" fill="none" stroke="#ffc0cb" stroke-opacity="0.51" stroke-width="2.2"/>
<circle cx="569.4" cy="3192.7" r="12.3" fill="#ffc0cb"/>
<circle cx="557.6" cy="3203.9" r="12.3" fill="#008000" fill-opacity="0.47"/>
<circle cx="557.6" cy="3203.9" r="8.9" fill="none" stroke="#008000" stroke-opacity="0.47" stroke-width="2.2"/>
<circle cx="585.5" cy="3212.9" r="12.3" fill="#d4aa3a"/>
<circle cx="585.5" cy="3212.9" r="8.9" fill="none" stroke="#d09e10" stroke-width="2.2"/>
<circle cx="630.0" cy="3216.7" r="12.3" fill="#ffc0cb"/>
<circle cx="566.2" cy="3239.3" r="12.3" fill="#ffc0cb" fill-opacity="0.71"/>
<circle cx="566.2" cy="3239.3" r="8.9" fill="none" stroke="#ffc0cb" stroke-opacity="0.71" stroke-width="2.2"/>
<circle cx="603.4" cy="3255.8" r="12.3" fill="#ffc0cb" fill-opacity="0.71"/>
<circle cx="603.4" cy="3255.8" r="8.9" fill="none" stroke="#ffc0cb" stroke-opacity="0.71" stroke-width="2.2"/>
<circle cx="681.5" cy="3258.0" r="12.3" fill="#ffc0cb"/>
<circle cx="547.9" cy="3284.4" r="12.3" fill="#9070e0"/>
<circle cx="547.9" cy="3284.4" r="8.9" fill="none" stroke="#5040ff" stroke-width="2.2"/>
<circle cx="274.3" cy="3273.5" r="12.3" fill="#000000" fill-opacity="0.71"/>
<circle cx="274.3" cy="3273.5" r="8.9" fill="none" stroke="#000000" stroke-opacity="0.71" stroke-width="2.2"/>
<circle cx="324.5" cy="3265.8" r="12.3" fill="#ff0000" fill-opacity="0.72"/>
<circle cx="324.5" cy="3265.8" r="8.9" fill="none" stroke="#ff0000" stroke-opacity="0.72" stroke-width="2.2"/>
<circle cx="315.1" cy="3270.6" r="12.3" fill="#000000" fill-opacity="0.71"/>
<circle cx="315.1" cy="3270.6" r="8.9" fill="none" stroke="#000000" stroke-opacity="0.71" stroke-width="2.2"/>
<circle cx="326.2" cy="3278.7" r="12.3" fill="#f8d200"/>
<circle cx="326.2" cy="3278.7" r="8.9" fill="none" stroke="#f8e000" stroke-width="2.2"/>
<circle cx="336.6" cy="3276.9" r="12.3" fill="#ffff00" fill-opacity="0.77"/>
<circle cx="336.6" cy="3276.9" r="8.9" fill="none" stroke="#ffff00" stroke-opacity="0.77" stroke-width="2.2"/>
<circle cx="357.2" cy="3274.4" r="12.3" fill="#008000" fill-opacity="0.73"/>
<circle cx="357.2" cy="3274.4" r="8.9" fill="none" stroke="#008000" stroke-opacity="0.73" stroke-width="2.2"/>
<circle cx="371.8" cy="3273.5" r="12.3" fill="#f8d200"/>
<circle cx="371.8" cy="3273.5" r="8.9" fill="none" stroke="#f8e000" stroke-width="2.2"/>
<circle cx="367.5" cy="3284.7" r="12.3" fill="#008000" fill-opacity="0.73"/>
<circle cx="367.5" cy="3284.7" r="8.9" fill="none" stroke="#008000" stroke-opacity="0.73" stroke-width="2.2"/>
<circle cx="384.7" cy="3291.6" r="12.3" fill="#ffd030"/>
<circle cx="384.7" cy="3291.6" r="8.9" fill="none" stroke="#ffb000" stroke-width="2.2"/>
<circle cx="364.0" cy="3315.6" r="12.3" fill="#008000" fill-opacity="0.73"/>
<circle cx="364.0" cy="3315.6" r="8.9" fill="none" stroke="#008000" stroke-opacity="0.73" stroke-width="2.2"/>
<circle cx="374.4" cy="3305.3" r="12.3" fill="#ffc21e"/>
<circle cx="374.4" cy="3305.3" r="8.9" fill="none" stroke="#ffb400" stroke-width="2.2"/>
<circle cx="318.5" cy="3307.0" r="12.3" fill="#008000" fill-opacity="0.73"/>
<circle cx="318.5" cy="3307.0" r="8.9" fill="none" stroke="#008000" stroke-opacity="0.73" stroke-width="2.2"/>
<circle cx="331.4" cy="3320.8" r="12.3" fill="#1e7040"/>
<circle cx="331.4" cy="3320.8" r="8.9" fill="none" stroke="#107a20" stroke-width="2.2"/>
<circle cx="315.9" cy="3330.2" r="12.3" fill="#1e7040"/>
<circle cx="315.9" cy="3330.2" r="8.9" fill="none" stroke="#107a20" stroke-width="2.2"/>
<circle cx="283.3" cy="3340.5" r="12.3" fill="#000000" fill-opacity="0.71"/>
<circle cx="283.3" cy="3340.5" r="8.9" fill="none" stroke="#000000" stroke-opacity="0.71" stroke-width="2.2"/>
<circle cx="291.9" cy="3346.6" r="12.3" fill="#000000" fill-opacity="0.71"/>
<circle cx="291.9" cy="3346.6" r="8.9" fill="none" stroke="#000000" stroke-opacity="0.71" stroke-width="2.2"/>
<circle cx="302.2" cy="3366.3" r="12.3" fill="#000000" fill-opacity="0.71"/>
<circle cx="302.2" cy="3366.3" r="8.9" fill="none" stroke="#000000" stroke-opacity="0.71" stroke-width="2.2"/>
<circle cx="365.8" cy="3333.7" r="12.3" fill="#000000" fill-opacity="0.71"/>
<circle cx="365.8" cy="3333.7" r="8.9" fill="none" stroke="#000000" stroke-opacity="0.71" stroke-width="2.2"/>
<circle cx="330.5" cy="3349.1" r="12.3" fill="#008000"/>
<circle cx="330.5" cy="3349.1" r="8.9" fill="none" stroke="#006c00" stroke-width="2.2"/>
<circle cx="347.7" cy="3349.1" r="12.3" fill="#ffc21e"/>
<circle cx="347.7" cy="3349.1" r="8.9" fill="none" stroke="#ffb400" stroke-width="2.2"/>
<circle cx="350.3" cy="3367.2" r="12.3" fill="#0a2a0a"/>
<circle cx="350.3" cy="3367.2" r="8.9" fill="none" stroke="#000000" stroke-width="2.2"/>
<circle cx="372.6" cy="3370.6" r="12.3" fill="#000000" fill-opacity="0.71"/>
<circle cx="372.6" cy="3370.6" r="8.9" fill="none" stroke="#000000" stroke-opacity="0.71" stroke-width="2.2"/>
<circle cx="386.4" cy="3380.9" r="12.3" fill="#000000" fill-opacity="0.71"/>
<circle cx="386.4" cy="3380.9" r="8.9" fill="none" stroke="#000000" stroke-opacity="0.71" stroke-width="2.2"/>
<circle cx="387.3" cy="3343.1" r="12.3" fill="#f8d200"/>
<circle cx="387.3" cy="3343.1" r="8.9" fill="none" stroke="#f8e000" stroke-width="2.2"/>
<circle cx="411.2" cy="3244.6" r="12.3" fill="#0000ff" fill-opacity="0.69"/>
<circle cx="411.2" cy="3244.6" r="8.9" fill="none" stroke="#0000ff" stroke-opacity="0.69" stroke-width="2.2"/>
<circle cx="438.7" cy="3272.1" r="12.3" fill="#0000ff" fill-opacity="0.69"/>
<circle cx="438.7" cy="3272.1" r="8.9" fill="none" stroke="#0000ff" stroke-opacity="0.69" stroke-width="2.2"/>
<circle cx="461.1" cy="3254.9" r="12.3" fill="#8a70f0"/>
<circle cx="461.1" cy="3254.9" r="8.9" fill="none" stroke="#6050f0" stroke-width="2.2"/>
<circle cx="465.4" cy="3271.2" r="12.3" fill="#0000ff" fill-opacity="0.69"/>
<circle cx="465.4" cy="3271.2" r="8.9" fill="none" stroke="#0000ff" stroke-opacity="0.69" stroke-width="2.2"/>
<circle cx="489.4" cy="3255.8" r="12.3" fill="#0000ff" fill-opacity="0.84"/>
<circle cx="489.4" cy="3255.8" r="8.9" fill="none" stroke="#0000ff" stroke-opacity="0.84" stroke-width="2.2"/>
<circle cx="394.1" cy="3292.7" r="12.3" fill="#ffff00" fill-opacity="0.77"/>
<circle cx="394.1" cy="3292.7" r="8.9" fill="none" stroke="#ffff00" stroke-opacity="0.77" stroke-width="2.2"/>
<circle cx="399.2" cy="3298.7" r="12.3" fill="#ffff00" fill-opacity="0.77"/>
<circle cx="399.2" cy="3298.7" r="8.9" fill="none" stroke="#ffff00" stroke-opacity="0.77" stroke-width="2.2"/>
<circle cx="421.6" cy="3326.2" r="12.3" fill="#ffff00" fill-opacity="0.5"/>
<circle cx="421.6" cy="3326.2" r="8.9" fill="none" stroke="#ffff00" stroke-opacity="0.5" stroke-width="2.2"/>
<circle cx="425.0" cy="3341.7" r="12.3" fill="#0000ff"/>
<circle cx="425.0" cy="3341.7" r="8.9" fill="none" stroke="#0000e6" stroke-width="2.2"/>
<circle cx="423.3" cy="3353.7" r="12.3" fill="#0000ff"/>
<circle cx="423.3" cy="3353.7" r="8.9" fill="none" stroke="#0000e6" stroke-width="2.2"/>
<circle cx="423.3" cy="3364.0" r="12.3" fill="#0000ff"/>
<circle cx="423.3" cy="3364.0" r="8.9" fill="none" stroke="#0000e6" stroke-width="2.2"/>
<circle cx="407.8" cy="3364.0" r="12.3" fill="#000000" fill-opacity="0.71"/>
<circle cx="407.8" cy="3364.0" r="8.9" fill="none" stroke="#000000" stroke-opacity="0.71" stroke-width="2.2"/>
<circle cx="413.0" cy="3381.2" r="12.3" fill="#0000ff" fill-opacity="0.69"/>
<circle cx="413.0" cy="3381.2" r="8.9" fill="none" stroke="#0000ff" stroke-opacity="0.69" stroke-width="2.2"/>
<circle cx="431.0" cy="3379.5" r="12.3" fill="#0000ff" fill-opacity="0.69"/>
<circle cx="431.0" cy="3379.5" r="8.9" fill="none" stroke="#0000ff" stroke-opacity="0.69" stroke-width="2.2"/>
<circle cx="444.8" cy="3368.3" r="12.3" fill="#008000"/>
<circle cx="444.8" cy="3368.3" r="8.9" fill="none" stroke="#006c00" stroke-width="2.2"/>
<circle cx="464.5" cy="3371.8" r="12.3" fill="#008000"/>
<circle cx="464.5" cy="3371.8" r="8.9" fill="none" stroke="#006c00" stroke-width="2.2"/>
<circle cx="464.5" cy="3387.3" r="12.3" fill="#008000"/>
<circle cx="464.5" cy="3387.3" r="8.9" fill="none" stroke="#006c00" stroke-width="2.2"/>
<circle cx="495.8" cy="3329.3" r="12.3" fill="#0000ff" fill-opacity="0.69"/>
<circle cx="495.8" cy="3329.3" r="8.9" fill="none" stroke="#0000ff" stroke-opacity="0.69" stroke-width="2.2"/>
<circle cx="510.9" cy="3352.0" r="12.3" fill="#ff0000" fill-opacity="0.45"/>
<circle cx="510.9" cy="3352.0" r="8.9" fill="none" stroke="#ff0000" stroke-opacity="0.45" stroke-width="2.2"/>
<circle cx="524.7" cy="3331.4" r="12.3" fill="#008000" fill-opacity="0.47"/>
<circle cx="524.7" cy="3331.4" r="8.9" fill="none" stroke="#008000" stroke-opacity="0.47" stroke-width="2.2"/>
<circle cx="553.8" cy="3304.7" r="12.3" fill="#0000ff" fill-opacity="0.5"/>
<circle cx="553.8" cy="3304.7" r="8.9" fill="none" stroke="#0000ff" stroke-opacity="0.5" stroke-width="2.2"/>
<circle cx="590.8" cy="3290.1" r="12.3" fill="#ffc0cb" fill-opacity="0.71"/>
<circle cx="590.8" cy="3290.1" r="8.9" fill="none" stroke="#ffc0cb" stroke-opacity="0.71" stroke-width="2.2"/>
<circle cx="601.1" cy="3289.2" r="12.3" fill="#ffc0cb" fill-opacity="0.71"/>
<circle cx="601.1" cy="3289.2" r="8.9" fill="none" stroke="#ffc0cb" stroke-opacity="0.71" stroke-width="2.2"/>
<circle cx="620.0" cy="3288.4" r="12.3" fill="#ffc0cb" fill-opacity="0.71"/>
<circle cx="620.0" cy="3288.4" r="8.9" fill="none" stroke="#ffc0cb" stroke-opacity="0.71" stroke-width="2.2"/>
<circle cx="606.2" cy="3306.4" r="12.3" fill="#ffc0cb" fill-opacity="0.51"/>
<circle cx="606.2" cy="3306.4" r="8.9" fill="none" stroke="#ffc0cb" stroke-opacity="0.51" stroke-width="2.2"/>
<circle cx="661.2" cy="3311.6" r="12.3" fill="#ffc0cb" fill-opacity="0.51"/>
<circle cx="661.2" cy="3311.6" r="8.9" fill="none" stroke="#ffc0cb" stroke-opacity="0.51" stroke-width="2.2"/>
<circle cx="604.5" cy="3327.9" r="12.3" fill="#ffc0cb" fill-opacity="0.51"/>
<circle cx="604.5" cy="3327.9" r="8.9" fill="none" stroke="#ffc0cb" stroke-opacity="0.51" stroke-width="2.2"/>
<circle cx="657.8" cy="3339.1" r="12.3" fill="#ffc0cb" fill-opacity="0.51"/>
<circle cx="657.8" cy="3339.1" r="8.9" fill="none" stroke="#ffc0cb" stroke-opacity="0.51" stroke-width="2.2"/>
<circle cx="664.7" cy="3340.8" r="12.3" fill="#ffc0cb" fill-opacity="0.51"/>
<circle cx="664.7" cy="3340.8" r="8.9" fill="none" stroke="#ffc0cb" stroke-opacity="0.51" stroke-width="2.2"/>
<circle cx="549.5" cy="3327.0" r="12.3" fill="#ff0000" fill-opacity="0.45"/>
<circle cx="549.5" cy="3327.0" r="8.9" fill="none" stroke="#ff0000" stroke-opacity="0.45" stroke-width="2.2"/>
<circle cx="565.9" cy="3319.3" r="12.3" fill="#008000" fill-opacity="0.47"/>
<circle cx="565.9" cy="3319.3" r="8.9" fill="none" stroke="#008000" stroke-opacity="0.47" stroke-width="2.2"/>
<circle cx="563.3" cy="3332.2" r="12.3" fill="#ff0000" fill-opacity="0.72"/>
<circle cx="563.3" cy="3332.2" r="8.9" fill="none" stroke="#ff0000" stroke-opacity="0.72" stroke-width="2.2"/>
<circle cx="584.8" cy="3324.4" r="12.3" fill="#2a6a80"/>
<circle cx="584.8" cy="3324.4" r="8.9" fill="none" stroke="#107a30" stroke-width="2.2"/>
<circle cx="587.3" cy="3339.1" r="12.3" fill="#0000ff" fill-opacity="0.69"/>
<circle cx="587.3" cy="3339.1" r="8.9" fill="none" stroke="#0000ff" stroke-opacity="0.69" stroke-width="2.2"/>
<circle cx="563.3" cy="3347.6" r="12.3" fill="#ff0000" fill-opacity="0.72"/>
<circle cx="563.3" cy="3347.6" r="8.9" fill="none" stroke="#ff0000" stroke-opacity="0.72" stroke-width="2.2"/>
<circle cx="565.0" cy="3359.7" r="12.3" fill="#000000" fill-opacity="0.71"/>
<circle cx="565.0" cy="3359.7" r="8.9" fill="none" stroke="#000000" stroke-opacity="0.71" stroke-width="2.2"/>
<circle cx="565.0" cy="3354.5" r="12.3" fill="#803030"/>
<circle cx="565.0" cy="3354.5" r="8.9" fill="none" stroke="#602020" stroke-width="2.2"/>
<circle cx="589.1" cy="3357.1" r="12.3" fill="#000000" fill-opacity="0.39"/>
<circle cx="589.1" cy="3357.1" r="8.9" fill="none" stroke="#000000" stroke-opacity="0.39" stroke-width="2.2"/>
<circle cx="609.7" cy="3356.2" r="12.3" fill="#ffc0cb" fill-opacity="0.71"/>
<circle cx="609.7" cy="3356.2" r="8.9" fill="none" stroke="#ffc0cb" stroke-opacity="0.71" stroke-width="2.2"/>
<circle cx="616.6" cy="3363.1" r="12.3" fill="#ffc0cb" fill-opacity="0.71"/>
<circle cx="616.6" cy="3363.1" r="8.9" fill="none" stroke="#ffc0cb" stroke-opacity="0.71" stroke-width="2.2"/>
<circle cx="534.9" cy="3392.3" r="12.3" fill="#101010"/>
<circle cx="534.9" cy="3392.3" r="8.9" fill="none" stroke="#000000" stroke-width="2.2"/>
<circle cx="573.6" cy="3405.2" r="12.3" fill="#000000" fill-opacity="0.39"/>
<circle cx="573.6" cy="3405.2" r="8.9" fill="none" stroke="#000000" stroke-opacity="0.39" stroke-width="2.2"/>
<circle cx="588.2" cy="3403.5" r="12.3" fill="#0000ff" fill-opacity="0.69"/>
<circle cx="588.2" cy="3403.5" r="8.9" fill="none" stroke="#0000ff" stroke-opacity="0.69" stroke-width="2.2"/>
<circle cx="650.1" cy="3398.3" r="12.3" fill="#ffc0cb" fill-opacity="0.71"/>
<circle cx="650.1" cy="3398.3" r="8.9" fill="none" stroke="#ffc0cb" stroke-opacity="0.71" stroke-width="2.2"/>
<circle cx="659.5" cy="3392.3" r="12.3" fill="#ffc0cb"/>
<circle cx="667.9" cy="3349.3" r="12.3" fill="#ffc0cb" fill-opacity="0.51"/>
<circle cx="667.9" cy="3349.3" r="8.9" fill="none" stroke="#ffc0cb" stroke-opacity="0.51" stroke-width="2.2"/>
<circle cx="736.7" cy="3336.4" r="12.3" fill="#ffc0cb" fill-opacity="0.51"/>
<circle cx="736.7" cy="3336.4" r="8.9" fill="none" stroke="#ffc0cb" stroke-opacity="0.51" stroke-width="2.2"/>
<circle cx="725.9" cy="3363.7" r="12.3" fill="#ffc0cb" fill-opacity="0.51"/>
<circle cx="725.9" cy="3363.7" r="8.9" fill="none" stroke="#ffc0cb" stroke-opacity="0.51" stroke-width="2.2"/>
<circle cx="754.9" cy="3364.3" r="12.3" fill="#ffc0cb" fill-opacity="0.51"/>
<circle cx="754.9" cy="3364.3" r="8.9" fill="none" stroke="#ffc0cb" stroke-opacity="0.51" stroke-width="2.2"/>
<circle cx="752.1" cy="3382.6" r="12.3" fill="#ffc0cb" fill-opacity="0.51"/>
<circle cx="752.1" cy="3382.6" r="8.9" fill="none" stroke="#ffc0cb" stroke-opacity="0.51" stroke-width="2.2"/>
<circle cx="687.3" cy="3396.6" r="12.3" fill="#ffc0cb" fill-opacity="0.51"/>
<circle cx="687.3" cy="3396.6" r="8.9" fill="none" stroke="#ffc0cb" stroke-opacity="0.51" stroke-width="2.2"/>
<circle cx="866.6" cy="3379.7" r="12.3" fill="#ffc0cb" fill-opacity="0.71"/>
<circle cx="866.6" cy="3379.7" r="8.9" fill="none" stroke="#ffc0cb" stroke-opacity="0.71" stroke-width="2.2"/>
<circle cx="881.7" cy="3405.3" r="12.3" fill="#ffc0cb" fill-opacity="0.71"/>
<circle cx="881.7" cy="3405.3" r="8.9" fill="none" stroke="#ffc0cb" stroke-opacity="0.71" stroke-width="2.2"/>
<circle cx="884.7" cy="3420.3" r="12.3" fill="#ffc0cb" fill-opacity="0.71"/>
<circle cx="884.7" cy="3420.3" r="8.9" fill="none" stroke="#ffc0cb" stroke-opacity="0.71" stroke-width="2.2"/>
<circle cx="971.9" cy="3445.9" r="12.3" fill="#ffc0cb" fill-opacity="0.71"/>
<circle cx="971.9" cy="3445.9" r="8.9" fill="none" stroke="#ffc0cb" stroke-opacity="0.71" stroke-width="2.2"/>
<circle cx="1061.5" cy="3454.9" r="12.3" fill="#ffc0cb" fill-opacity="0.71"/>
<circle cx="1061.5" cy="3454.9" r="8.9" fill="none" stroke="#ffc0cb" stroke-opacity="0.71" stroke-width="2.2"/>
<circle cx="864.5" cy="3554.1" r="12.3" fill="#008000" fill-opacity="0.73"/>
<circle cx="864.5" cy="3554.1" r="8.9" fill="none" stroke="#008000" stroke-opacity="0.73" stroke-width="2.2"/>
<circle cx="408.4" cy="3408.7" r="12.3" fill="#0000ff"/>
<circle cx="408.4" cy="3408.7" r="8.9" fill="none" stroke="#0000e6" stroke-width="2.2"/>
<circle cx="422.1" cy="3394.1" r="12.3" fill="#0000ff"/>
<circle cx="422.1" cy="3394.1" r="8.9" fill="none" stroke="#0000e6" stroke-width="2.2"/>
<circle cx="438.4" cy="3397.5" r="12.3" fill="#0000ff"/>
<circle cx="438.4" cy="3397.5" r="8.9" fill="none" stroke="#0000e6" stroke-width="2.2"/>
<circle cx="441.9" cy="3416.4" r="12.3" fill="#0000ff"/>
<circle cx="441.9" cy="3416.4" r="8.9" fill="none" stroke="#0000e6" stroke-width="2.2"/>
<circle cx="440.2" cy="3430.2" r="12.3" fill="#0000ff" fill-opacity="0.69"/>
<circle cx="440.2" cy="3430.2" r="8.9" fill="none" stroke="#0000ff" stroke-opacity="0.69" stroke-width="2.2"/>
<circle cx="448.7" cy="3440.5" r="12.3" fill="#0000ff" fill-opacity="0.69"/>
<circle cx="448.7" cy="3440.5" r="8.9" fill="none" stroke="#0000ff" stroke-opacity="0.69" stroke-width="2.2"/>
<circle cx="464.2" cy="3449.1" r="12.3" fill="#0000ff"/>
<circle cx="464.2" cy="3449.1" r="8.9" fill="none" stroke="#0000e6" stroke-width="2.2"/>
<circle cx="455.6" cy="3402.7" r="12.3" fill="#008000"/>
<circle cx="455.6" cy="3402.7" r="8.9" fill="none" stroke="#006c00" stroke-width="2.2"/>
<circle cx="469.4" cy="3413.0" r="12.3" fill="#008000"/>
<circle cx="469.4" cy="3413.0" r="8.9" fill="none" stroke="#006c00" stroke-width="2.2"/>
<circle cx="464.2" cy="3434.4" r="12.3" fill="#000000" fill-opacity="0.71"/>
<circle cx="464.2" cy="3434.4" r="8.9" fill="none" stroke="#000000" stroke-opacity="0.71" stroke-width="2.2"/>
<circle cx="478.0" cy="3427.6" r="12.3" fill="#f8f000"/>
<circle cx="478.0" cy="3427.6" r="8.9" fill="none" stroke="#e8e000" stroke-width="2.2"/>
<circle cx="491.7" cy="3416.4" r="12.3" fill="#008000"/>
<circle cx="491.7" cy="3416.4" r="8.9" fill="none" stroke="#006c00" stroke-width="2.2"/>
<circle cx="490.0" cy="3435.3" r="12.3" fill="#008000"/>
<circle cx="490.0" cy="3435.3" r="8.9" fill="none" stroke="#006c00" stroke-width="2.2"/>
<circle cx="500.3" cy="3450.8" r="12.3" fill="#008000"/>
<circle cx="500.3" cy="3450.8" r="8.9" fill="none" stroke="#006c00" stroke-width="2.2"/>
<circle cx="502.9" cy="3461.1" r="12.3" fill="#008000"/>
<circle cx="502.9" cy="3461.1" r="8.9" fill="none" stroke="#006c00" stroke-width="2.2"/>
<circle cx="508.9" cy="3421.6" r="12.3" fill="#0c440c"/>
<circle cx="508.9" cy="3421.6" r="8.9" fill="none" stroke="#083008" stroke-width="2.2"/>
<circle cx="524.4" cy="3423.3" r="12.3" fill="#008000"/>
<circle cx="524.4" cy="3423.3" r="8.9" fill="none" stroke="#006c00" stroke-width="2.2"/>
<circle cx="534.7" cy="3437.0" r="12.3" fill="#000000" fill-opacity="0.71"/>
<circle cx="534.7" cy="3437.0" r="8.9" fill="none" stroke="#000000" stroke-opacity="0.71" stroke-width="2.2"/>
<circle cx="526.1" cy="3454.2" r="12.3" fill="#0c440c"/>
<circle cx="526.1" cy="3454.2" r="8.9" fill="none" stroke="#083008" stroke-width="2.2"/>
<circle cx="388.6" cy="3453.4" r="12.3" fill="#000000" fill-opacity="0.71"/>
<circle cx="388.6" cy="3453.4" r="8.9" fill="none" stroke="#000000" stroke-opacity="0.71" stroke-width="2.2"/>
<circle cx="517.5" cy="3474.8" r="12.3" fill="#ffff00" fill-opacity="0.77"/>
<circle cx="517.5" cy="3474.8" r="8.9" fill="none" stroke="#ffff00" stroke-opacity="0.77" stroke-width="2.2"/>
<circle cx="513.2" cy="3483.4" r="12.3" fill="#ffff00" fill-opacity="0.77"/>
<circle cx="513.2" cy="3483.4" r="8.9" fill="none" stroke="#ffff00" stroke-opacity="0.77" stroke-width="2.2"/>
<circle cx="533.0" cy="3488.6" r="12.3" fill="#ffc21e"/>
<circle cx="533.0" cy="3488.6" r="8.9" fill="none" stroke="#ffb400" stroke-width="2.2"/>
<circle cx="578.4" cy="3427.8" r="12.3" fill="#0000ff" fill-opacity="0.5"/>
<circle cx="578.4" cy="3427.8" r="8.9" fill="none" stroke="#0000ff" stroke-opacity="0.5" stroke-width="2.2"/>
<circle cx="598.2" cy="3432.1" r="12.3" fill="#0000ff" fill-opacity="0.5"/>
<circle cx="598.2" cy="3432.1" r="8.9" fill="none" stroke="#0000ff" stroke-opacity="0.5" stroke-width="2.2"/>
<circle cx="612.8" cy="3423.5" r="12.3" fill="#0000ff" fill-opacity="0.5"/>
<circle cx="612.8" cy="3423.5" r="8.9" fill="none" stroke="#0000ff" stroke-opacity="0.5" stroke-width="2.2"/>
<circle cx="558.7" cy="3430.4" r="12.3" fill="#0000ff"/>
<circle cx="558.7" cy="3430.4" r="8.9" fill="none" stroke="#0000e6" stroke-width="2.2"/>
<circle cx="573.3" cy="3436.4" r="12.3" fill="#0000ff"/>
<circle cx="573.3" cy="3436.4" r="8.9" fill="none" stroke="#0000e6" stroke-width="2.2"/>
<circle cx="588.7" cy="3446.7" r="12.3" fill="#0000ff"/>
<circle cx="588.7" cy="3446.7" r="8.9" fill="none" stroke="#0000e6" stroke-width="2.2"/>
<circle cx="590.5" cy="3458.7" r="12.3" fill="#0000ff"/>
<circle cx="590.5" cy="3458.7" r="8.9" fill="none" stroke="#0000e6" stroke-width="2.2"/>
<circle cx="544.1" cy="3455.3" r="12.3" fill="#0000ff"/>
<circle cx="544.1" cy="3455.3" r="8.9" fill="none" stroke="#0000e6" stroke-width="2.2"/>
<circle cx="554.4" cy="3472.5" r="12.3" fill="#0000ff" fill-opacity="0.5"/>
<circle cx="554.4" cy="3472.5" r="8.9" fill="none" stroke="#0000ff" stroke-opacity="0.5" stroke-width="2.2"/>
<circle cx="525.2" cy="3426.1" r="12.3" fill="#0c440c"/>
<circle cx="525.2" cy="3426.1" r="8.9" fill="none" stroke="#083008" stroke-width="2.2"/>
<circle cx="554.4" cy="3448.4" r="12.3" fill="#008000"/>
<circle cx="554.4" cy="3448.4" r="8.9" fill="none" stroke="#006c00" stroke-width="2.2"/>
<circle cx="571.6" cy="3446.7" r="12.3" fill="#008000"/>
<circle cx="571.6" cy="3446.7" r="8.9" fill="none" stroke="#006c00" stroke-width="2.2"/>
<circle cx="563.0" cy="3458.7" r="12.3" fill="#008000"/>
<circle cx="563.0" cy="3458.7" r="8.9" fill="none" stroke="#006c00" stroke-width="2.2"/>
<circle cx="580.2" cy="3477.6" r="12.3" fill="#008000" fill-opacity="0.73"/>
<circle cx="580.2" cy="3477.6" r="8.9" fill="none" stroke="#008000" stroke-opacity="0.73" stroke-width="2.2"/>
<circle cx="605.9" cy="3465.6" r="12.3" fill="#008000"/>
<circle cx="605.9" cy="3465.6" r="8.9" fill="none" stroke="#006c00" stroke-width="2.2"/>
<circle cx="571.6" cy="3479.4" r="12.3" fill="#b02818"/>
<circle cx="571.6" cy="3479.4" r="8.9" fill="none" stroke="#f01010" stroke-width="2.2"/>
<circle cx="604.2" cy="3475.9" r="12.3" fill="#ff0000"/>
<circle cx="604.2" cy="3475.9" r="8.9" fill="none" stroke="#e80000" stroke-width="2.2"/>
<circle cx="624.8" cy="3479.4" r="12.3" fill="#ff0000" fill-opacity="0.72"/>
<circle cx="624.8" cy="3479.4" r="8.9" fill="none" stroke="#ff0000" stroke-opacity="0.72" stroke-width="2.2"/>
<circle cx="607.6" cy="3486.2" r="12.3" fill="#ff0000"/>
<circle cx="607.6" cy="3486.2" r="8.9" fill="none" stroke="#e80000" stroke-width="2.2"/>
<circle cx="648.0" cy="3503.4" r="12.3" fill="#ff0000" fill-opacity="0.72"/>
<circle cx="648.0" cy="3503.4" r="8.9" fill="none" stroke="#ff0000" stroke-opacity="0.72" stroke-width="2.2"/>
<circle cx="664.4" cy="3470.8" r="12.3" fill="#008000" fill-opacity="0.73"/>
<circle cx="664.4" cy="3470.8" r="8.9" fill="none" stroke="#008000" stroke-opacity="0.73" stroke-width="2.2"/>
<circle cx="676.4" cy="3474.2" r="12.3" fill="#008000" fill-opacity="0.73"/>
<circle cx="676.4" cy="3474.2" r="8.9" fill="none" stroke="#008000" stroke-opacity="0.73" stroke-width="2.2"/>
<circle cx="673.0" cy="3494.8" r="12.3" fill="#008000"/>
<circle cx="673.0" cy="3494.8" r="8.9" fill="none" stroke="#006c00" stroke-width="2.2"/>
<circle cx="662.6" cy="3396.9" r="12.3" fill="#ffc0cb" fill-opacity="0.71"/>
<circle cx="662.6" cy="3396.9" r="8.9" fill="none" stroke="#ffc0cb" stroke-opacity="0.71" stroke-width="2.2"/>
<circle cx="674.7" cy="3418.4" r="12.3" fill="#ffc0cb"/>
<circle cx="571.6" cy="3496.6" r="12.3" fill="#f8d200"/>
<circle cx="571.6" cy="3496.6" r="8.9" fill="none" stroke="#f8e000" stroke-width="2.2"/>
<circle cx="568.1" cy="3510.3" r="12.3" fill="#f8d200"/>
<circle cx="568.1" cy="3510.3" r="8.9" fill="none" stroke="#f8e000" stroke-width="2.2"/>
<circle cx="559.5" cy="3518.9" r="12.3" fill="#f8d200"/>
<circle cx="559.5" cy="3518.9" r="8.9" fill="none" stroke="#f8e000" stroke-width="2.2"/>
<circle cx="592.2" cy="3517.2" r="12.3" fill="#f8d200"/>
<circle cx="592.2" cy="3517.2" r="8.9" fill="none" stroke="#f8e000" stroke-width="2.2"/>
<circle cx="611.1" cy="3506.9" r="12.3" fill="#f8d200"/>
<circle cx="611.1" cy="3506.9" r="8.9" fill="none" stroke="#f8e000" stroke-width="2.2"/>
<circle cx="623.1" cy="3496.6" r="12.3" fill="#f8d200"/>
<circle cx="623.1" cy="3496.6" r="8.9" fill="none" stroke="#f8e000" stroke-width="2.2"/>
<circle cx="638.6" cy="3503.4" r="12.3" fill="#f8d200"/>
<circle cx="638.6" cy="3503.4" r="8.9" fill="none" stroke="#f8e000" stroke-width="2.2"/>
<circle cx="650.6" cy="3510.3" r="12.3" fill="#f8d200"/>
<circle cx="650.6" cy="3510.3" r="8.9" fill="none" stroke="#f8e000" stroke-width="2.2"/>
<circle cx="667.8" cy="3520.6" r="12.3" fill="#f8d200"/>
<circle cx="667.8" cy="3520.6" r="8.9" fill="none" stroke="#f8e000" stroke-width="2.2"/>
<circle cx="676.4" cy="3510.3" r="12.3" fill="#ffff00" fill-opacity="0.77"/>
<circle cx="676.4" cy="3510.3" r="8.9" fill="none" stroke="#ffff00" stroke-opacity="0.77" stroke-width="2.2"/>
<circle cx="554.4" cy="3490.5" r="12.3" fill="#101010"/>
<circle cx="554.4" cy="3490.5" r="8.9" fill="none" stroke="#000000" stroke-width="2.2"/>
<circle cx="589.6" cy="3500.8" r="12.3" fill="#101010"/>
<circle cx="589.6" cy="3500.8" r="8.9" fill="none" stroke="#000000" stroke-width="2.2"/>
<circle cx="545.8" cy="3529.2" r="12.3" fill="#000000" fill-opacity="0.39"/>
<circle cx="545.8" cy="3529.2" r="8.9" fill="none" stroke="#000000" stroke-opacity="0.39" stroke-width="2.2"/>
<circle cx="570.7" cy="3536.9" r="12.3" fill="#101010"/>
<circle cx="570.7" cy="3536.9" r="8.9" fill="none" stroke="#000000" stroke-width="2.2"/>
<circle cx="595.6" cy="3537.8" r="12.3" fill="#101010"/>
<circle cx="595.6" cy="3537.8" r="8.9" fill="none" stroke="#000000" stroke-width="2.2"/>
<circle cx="626.6" cy="3530.9" r="12.3" fill="#101010"/>
<circle cx="626.6" cy="3530.9" r="8.9" fill="none" stroke="#000000" stroke-width="2.2"/>
<circle cx="616.2" cy="3541.2" r="12.3" fill="#101010"/>
<circle cx="616.2" cy="3541.2" r="8.9" fill="none" stroke="#000000" stroke-width="2.2"/>
<circle cx="640.3" cy="3536.1" r="12.3" fill="#101010"/>
<circle cx="640.3" cy="3536.1" r="8.9" fill="none" stroke="#000000" stroke-width="2.2"/>
<circle cx="666.1" cy="3537.8" r="12.3" fill="#101010"/>
<circle cx="666.1" cy="3537.8" r="8.9" fill="none" stroke="#000000" stroke-width="2.2"/>
<circle cx="684.1" cy="3474.6" r="12.3" fill="#008000" fill-opacity="0.73"/>
<circle cx="684.1" cy="3474.6" r="8.9" fill="none" stroke="#008000" stroke-opacity="0.73" stroke-width="2.2"/>
<circle cx="698.7" cy="3500.4" r="12.3" fill="#008000"/>
<circle cx="698.7" cy="3500.4" r="8.9" fill="none" stroke="#006c00" stroke-width="2.2"/>
<circle cx="720.2" cy="3499.5" r="12.3" fill="#0000ff"/>
<circle cx="720.2" cy="3499.5" r="8.9" fill="none" stroke="#0000e6" stroke-width="2.2"/>
<circle cx="729.6" cy="3489.2" r="12.3" fill="#ffc21e"/>
<circle cx="729.6" cy="3489.2" r="8.9" fill="none" stroke="#ffb400" stroke-width="2.2"/>
<circle cx="726.2" cy="3513.3" r="12.3" fill="#008000"/>
<circle cx="726.2" cy="3513.3" r="8.9" fill="none" stroke="#006c00" stroke-width="2.2"/>
<circle cx="682.3" cy="3511.6" r="12.3" fill="#c8e030"/>
<circle cx="682.3" cy="3511.6" r="8.9" fill="none" stroke="#b0d020" stroke-width="2.2"/>
<circle cx="711.6" cy="3516.7" r="12.3" fill="#008000"/>
<circle cx="711.6" cy="3516.7" r="8.9" fill="none" stroke="#006c00" stroke-width="2.2"/>
<circle cx="733.9" cy="3532.2" r="12.3" fill="#008000"/>
<circle cx="733.9" cy="3532.2" r="8.9" fill="none" stroke="#006c00" stroke-width="2.2"/>
<circle cx="751.1" cy="3532.2" r="12.3" fill="#008000"/>
<circle cx="751.1" cy="3532.2" r="8.9" fill="none" stroke="#006c00" stroke-width="2.2"/>
<circle cx="778.6" cy="3509.8" r="12.3" fill="#0000ff"/>
<circle cx="778.6" cy="3509.8" r="8.9" fill="none" stroke="#0000e6" stroke-width="2.2"/>
<circle cx="790.6" cy="3520.2" r="12.3" fill="#0000ff"/>
<circle cx="790.6" cy="3520.2" r="8.9" fill="none" stroke="#0000e6" stroke-width="2.2"/>
<circle cx="799.2" cy="3533.9" r="12.3" fill="#0000ff"/>
<circle cx="799.2" cy="3533.9" r="8.9" fill="none" stroke="#0000e6" stroke-width="2.2"/>
<circle cx="809.5" cy="3545.9" r="12.3" fill="#0000ff"/>
<circle cx="809.5" cy="3545.9" r="8.9" fill="none" stroke="#0000e6" stroke-width="2.2"/>
<circle cx="766.6" cy="3516.7" r="12.3" fill="#ff0000" fill-opacity="0.72"/>
<circle cx="766.6" cy="3516.7" r="8.9" fill="none" stroke="#ff0000" stroke-opacity="0.72" stroke-width="2.2"/>
<circle cx="783.7" cy="3533.9" r="12.3" fill="#008000"/>
<circle cx="783.7" cy="3533.9" r="8.9" fill="none" stroke="#006c00" stroke-width="2.2"/>
<circle cx="775.1" cy="3532.2" r="12.3" fill="#e8b820"/>
<circle cx="775.1" cy="3532.2" r="8.9" fill="none" stroke="#f0c000" stroke-width="2.2"/>
<circle cx="766.6" cy="3540.8" r="12.3" fill="#f8d200"/>
<circle cx="766.6" cy="3540.8" r="8.9" fill="none" stroke="#f8e000" stroke-width="2.2"/>
<circle cx="800.9" cy="3556.2" r="12.3" fill="#008000"/>
<circle cx="800.9" cy="3556.2" r="8.9" fill="none" stroke="#006c00" stroke-width="2.2"/>
<circle cx="802.6" cy="3587.2" r="12.3" fill="#008000"/>
<circle cx="802.6" cy="3587.2" r="8.9" fill="none" stroke="#006c00" stroke-width="2.2"/>
<circle cx="806.1" cy="3566.6" r="12.3" fill="#ff0000"/>
<circle cx="806.1" cy="3566.6" r="8.9" fill="none" stroke="#e80000" stroke-width="2.2"/>
<circle cx="814.7" cy="3580.3" r="12.3" fill="#ff0000"/>
<circle cx="814.7" cy="3580.3" r="8.9" fill="none" stroke="#e80000" stroke-width="2.2"/>
<circle cx="814.7" cy="3595.8" r="12.3" fill="#ff0000"/>
<circle cx="814.7" cy="3595.8" r="8.9" fill="none" stroke="#e80000" stroke-width="2.2"/>
<circle cx="790.6" cy="3582.0" r="12.3" fill="#f8d200"/>
<circle cx="790.6" cy="3582.0" r="8.9" fill="none" stroke="#f8e000" stroke-width="2.2"/>
<circle cx="665.2" cy="3521.9" r="12.3" fill="#fff200"/>
<circle cx="665.2" cy="3521.9" r="8.9" fill="none" stroke="#f2d800" stroke-width="2.2"/>
<circle cx="682.3" cy="3525.3" r="12.3" fill="#fff200"/>
<circle cx="682.3" cy="3525.3" r="8.9" fill="none" stroke="#f2d800" stroke-width="2.2"/>
<circle cx="733.9" cy="3542.5" r="12.3" fill="#fff200"/>
<circle cx="733.9" cy="3542.5" r="8.9" fill="none" stroke="#f2d800" stroke-width="2.2"/>
<circle cx="751.1" cy="3545.9" r="12.3" fill="#fff200"/>
<circle cx="751.1" cy="3545.9" r="8.9" fill="none" stroke="#f2d800" stroke-width="2.2"/>
<circle cx="784.6" cy="3547.6" r="12.3" fill="#5a4a20"/>
<circle cx="784.6" cy="3547.6" r="8.9" fill="none" stroke="#3a3010" stroke-width="2.2"/>
<circle cx="782.0" cy="3570.0" r="12.3" fill="#6a6010"/>
<circle cx="782.0" cy="3570.0" r="8.9" fill="none" stroke="#4a4000" stroke-width="2.2"/>
<circle cx="680.6" cy="3549.4" r="12.3" fill="#101010"/>
<circle cx="680.6" cy="3549.4" r="8.9" fill="none" stroke="#000000" stroke-width="2.2"/>
<circle cx="703.0" cy="3549.4" r="12.3" fill="#2a2808"/>
<circle cx="703.0" cy="3549.4" r="8.9" fill="none" stroke="#141200" stroke-width="2.2"/>
<circle cx="723.6" cy="3552.8" r="12.3" fill="#2a2808"/>
<circle cx="723.6" cy="3552.8" r="8.9" fill="none" stroke="#141200" stroke-width="2.2"/>
<circle cx="742.5" cy="3556.2" r="12.3" fill="#2a2808"/>
<circle cx="742.5" cy="3556.2" r="8.9" fill="none" stroke="#141200" stroke-width="2.2"/>
<circle cx="749.4" cy="3558.8" r="12.3" fill="#2a2808"/>
<circle cx="749.4" cy="3558.8" r="8.9" fill="none" stroke="#141200" stroke-width="2.2"/>
<circle cx="687.5" cy="3568.3" r="12.3" fill="#2a2808"/>
<circle cx="687.5" cy="3568.3" r="8.9" fill="none" stroke="#141200" stroke-width="2.2"/>
<circle cx="670.3" cy="3576.9" r="12.3" fill="#000000" fill-opacity="0.71"/>
<circle cx="670.3" cy="3576.9" r="8.9" fill="none" stroke="#000000" stroke-opacity="0.71" stroke-width="2.2"/>
<circle cx="704.7" cy="3571.7" r="12.3" fill="#101010"/>
<circle cx="704.7" cy="3571.7" r="8.9" fill="none" stroke="#000000" stroke-width="2.2"/>
<circle cx="725.3" cy="3570.0" r="12.3" fill="#101010"/>
<circle cx="725.3" cy="3570.0" r="8.9" fill="none" stroke="#000000" stroke-width="2.2"/>
<circle cx="742.5" cy="3578.6" r="12.3" fill="#101010"/>
<circle cx="742.5" cy="3578.6" r="8.9" fill="none" stroke="#000000" stroke-width="2.2"/>
<circle cx="763.1" cy="3578.6" r="12.3" fill="#101010"/>
<circle cx="763.1" cy="3578.6" r="8.9" fill="none" stroke="#000000" stroke-width="2.2"/>
<circle cx="689.2" cy="3588.9" r="12.3" fill="#000000" fill-opacity="0.71"/>
<circle cx="689.2" cy="3588.9" r="8.9" fill="none" stroke="#000000" stroke-opacity="0.71" stroke-width="2.2"/>
<circle cx="703.0" cy="3594.0" r="12.3" fill="#101010"/>
<circle cx="703.0" cy="3594.0" r="8.9" fill="none" stroke="#000000" stroke-width="2.2"/>
<circle cx="723.6" cy="3600.9" r="12.3" fill="#000000" fill-opacity="0.71"/>
<circle cx="723.6" cy="3600.9" r="8.9" fill="none" stroke="#000000" stroke-opacity="0.71" stroke-width="2.2"/>
<circle cx="670.3" cy="3600.9" r="12.3" fill="#000000" fill-opacity="0.71"/>
<circle cx="670.3" cy="3600.9" r="8.9" fill="none" stroke="#000000" stroke-opacity="0.71" stroke-width="2.2"/>
<circle cx="749.4" cy="3606.1" r="12.3" fill="#101010"/>
<circle cx="749.4" cy="3606.1" r="8.9" fill="none" stroke="#000000" stroke-width="2.2"/>
<circle cx="770.0" cy="3600.9" r="12.3" fill="#101010"/>
<circle cx="770.0" cy="3600.9" r="8.9" fill="none" stroke="#000000" stroke-width="2.2"/>
<circle cx="792.3" cy="3602.6" r="12.3" fill="#101010"/>
<circle cx="792.3" cy="3602.6" r="8.9" fill="none" stroke="#000000" stroke-width="2.2"/>
<circle cx="776.9" cy="3611.2" r="12.3" fill="#101010"/>
<circle cx="776.9" cy="3611.2" r="8.9" fill="none" stroke="#000000" stroke-width="2.2"/>
<circle cx="809.5" cy="3611.2" r="12.3" fill="#000000" fill-opacity="0.71"/>
<circle cx="809.5" cy="3611.2" r="8.9" fill="none" stroke="#000000" stroke-opacity="0.71" stroke-width="2.2"/>
<circle cx="745.9" cy="3614.7" r="12.3" fill="#000000" fill-opacity="0.71"/>
<circle cx="745.9" cy="3614.7" r="8.9" fill="none" stroke="#000000" stroke-opacity="0.71" stroke-width="2.2"/>
<circle cx="708.1" cy="3604.4" r="12.3" fill="#101010"/>
<circle cx="708.1" cy="3604.4" r="8.9" fill="none" stroke="#000000" stroke-width="2.2"/>
<circle cx="823.0" cy="3576.2" r="12.3" fill="#ff0000"/>
<circle cx="823.0" cy="3576.2" r="8.9" fill="none" stroke="#e80000" stroke-width="2.2"/>
<circle cx="840.2" cy="3579.7" r="12.3" fill="#ff0000"/>
<circle cx="840.2" cy="3579.7" r="8.9" fill="none" stroke="#e80000" stroke-width="2.2"/>
<circle cx="831.6" cy="3588.3" r="12.3" fill="#ff0000"/>
<circle cx="831.6" cy="3588.3" r="8.9" fill="none" stroke="#e80000" stroke-width="2.2"/>
<circle cx="834.1" cy="3607.2" r="12.3" fill="#f8d200"/>
<circle cx="834.1" cy="3607.2" r="8.9" fill="none" stroke="#f8e000" stroke-width="2.2"/>
<circle cx="823.8" cy="3618.3" r="12.3" fill="#5a4a20"/>
<circle cx="823.8" cy="3618.3" r="8.9" fill="none" stroke="#3a3010" stroke-width="2.2"/>
<circle cx="869.4" cy="3577.1" r="12.3" fill="#008000"/>
<circle cx="869.4" cy="3577.1" r="8.9" fill="none" stroke="#006c00" stroke-width="2.2"/>
<circle cx="871.9" cy="3584.8" r="12.3" fill="#ff0000" fill-opacity="0.72"/>
<circle cx="871.9" cy="3584.8" r="8.9" fill="none" stroke="#ff0000" stroke-opacity="0.72" stroke-width="2.2"/>
<circle cx="870.2" cy="3594.3" r="12.3" fill="#5a4008"/>
<circle cx="870.2" cy="3594.3" r="8.9" fill="none" stroke="#3a2800" stroke-width="2.2"/>
<circle cx="916.1" cy="3598.2" r="12.3" fill="#ff0000"/>
<circle cx="916.1" cy="3598.2" r="8.9" fill="none" stroke="#e80000" stroke-width="2.2"/>
<circle cx="649.4" cy="3527.5" r="12.3" fill="#fff200"/>
<circle cx="649.4" cy="3527.5" r="8.9" fill="none" stroke="#f2d800" stroke-width="2.2"/>
<circle cx="613.3" cy="3549.8" r="12.3" fill="#2a2808"/>
<circle cx="613.3" cy="3549.8" r="8.9" fill="none" stroke="#141200" stroke-width="2.2"/>
<circle cx="632.2" cy="3558.4" r="12.3" fill="#000000" fill-opacity="0.71"/>
<circle cx="632.2" cy="3558.4" r="8.9" fill="none" stroke="#000000" stroke-opacity="0.71" stroke-width="2.2"/>
<circle cx="640.8" cy="3544.7" r="12.3" fill="#101010"/>
<circle cx="640.8" cy="3544.7" r="8.9" fill="none" stroke="#000000" stroke-width="2.2"/>
<circle cx="656.2" cy="3555.0" r="12.3" fill="#101010"/>
<circle cx="656.2" cy="3555.0" r="8.9" fill="none" stroke="#000000" stroke-width="2.2"/>
<circle cx="652.8" cy="3572.2" r="12.3" fill="#101010"/>
<circle cx="652.8" cy="3572.2" r="8.9" fill="none" stroke="#000000" stroke-width="2.2"/>
<circle cx="624.4" cy="3584.2" r="12.3" fill="#000000" fill-opacity="0.71"/>
<circle cx="624.4" cy="3584.2" r="8.9" fill="none" stroke="#000000" stroke-opacity="0.71" stroke-width="2.2"/>
<circle cx="644.2" cy="3584.2" r="12.3" fill="#000000" fill-opacity="0.71"/>
<circle cx="644.2" cy="3584.2" r="8.9" fill="none" stroke="#000000" stroke-opacity="0.71" stroke-width="2.2"/>
<circle cx="652.8" cy="3599.7" r="12.3" fill="#000000" fill-opacity="0.71"/>
<circle cx="652.8" cy="3599.7" r="8.9" fill="none" stroke="#000000" stroke-opacity="0.71" stroke-width="2.2"/>
<circle cx="768.1" cy="3626.4" r="12.3" fill="#000000" fill-opacity="0.71"/>
<circle cx="768.1" cy="3626.4" r="8.9" fill="none" stroke="#000000" stroke-opacity="0.71" stroke-width="2.2"/>
<circle cx="769.0" cy="3638.4" r="12.3" fill="#000000" fill-opacity="0.71"/>
<circle cx="769.0" cy="3638.4" r="8.9" fill="none" stroke="#000000" stroke-opacity="0.71" stroke-width="2.2"/>
<circle cx="759.5" cy="3647.9" r="12.3" fill="#000000" fill-opacity="0.71"/>
<circle cx="759.5" cy="3647.9" r="8.9" fill="none" stroke="#000000" stroke-opacity="0.71" stroke-width="2.2"/>
<circle cx="781.9" cy="3652.2" r="12.3" fill="#000000" fill-opacity="0.71"/>
<circle cx="781.9" cy="3652.2" r="8.9" fill="none" stroke="#000000" stroke-opacity="0.71" stroke-width="2.2"/>
<circle cx="837.7" cy="3647.0" r="12.3" fill="#000000" fill-opacity="0.71"/>
<circle cx="837.7" cy="3647.0" r="8.9" fill="none" stroke="#000000" stroke-opacity="0.71" stroke-width="2.2"/>
<circle cx="866.9" cy="3661.6" r="12.3" fill="#000000" fill-opacity="0.71"/>
<circle cx="866.9" cy="3661.6" r="8.9" fill="none" stroke="#000000" stroke-opacity="0.71" stroke-width="2.2"/>
<circle cx="795.6" cy="3610.9" r="12.3" fill="#000000" fill-opacity="0.71"/>
<circle cx="795.6" cy="3610.9" r="8.9" fill="none" stroke="#000000" stroke-opacity="0.71" stroke-width="2.2"/>
<circle cx="343.4" cy="3407.9" r="12.3" fill="#0c5a22"/>
<circle cx="343.4" cy="3407.9" r="8.9" fill="none" stroke="#006400" stroke-width="2.2"/>
<circle cx="635.6" cy="3550.0" r="12.3" fill="#101010"/>
<circle cx="635.6" cy="3550.0" r="8.9" fill="none" stroke="#000000" stroke-width="2.2"/>
<circle cx="645.9" cy="3560.3" r="12.3" fill="#101010"/>
<circle cx="645.9" cy="3560.3" r="8.9" fill="none" stroke="#000000" stroke-width="2.2"/>
<circle cx="663.1" cy="3570.6" r="12.3" fill="#101010"/>
<circle cx="663.1" cy="3570.6" r="8.9" fill="none" stroke="#000000" stroke-width="2.2"/>
<circle cx="656.2" cy="3584.4" r="12.3" fill="#101010"/>
<circle cx="656.2" cy="3584.4" r="8.9" fill="none" stroke="#000000" stroke-width="2.2"/>
<circle cx="673.4" cy="3591.2" r="12.3" fill="#101010"/>
<circle cx="673.4" cy="3591.2" r="8.9" fill="none" stroke="#000000" stroke-width="2.2"/>
<circle cx="697.5" cy="3570.6" r="12.3" fill="#101010"/>
<circle cx="697.5" cy="3570.6" r="8.9" fill="none" stroke="#000000" stroke-width="2.2"/>
<circle cx="707.8" cy="3584.4" r="12.3" fill="#101010"/>
<circle cx="707.8" cy="3584.4" r="8.9" fill="none" stroke="#000000" stroke-width="2.2"/>
<circle cx="721.5" cy="3577.5" r="12.3" fill="#101010"/>
<circle cx="721.5" cy="3577.5" r="8.9" fill="none" stroke="#000000" stroke-width="2.2"/>
<circle cx="731.9" cy="3598.1" r="12.3" fill="#101010"/>
<circle cx="731.9" cy="3598.1" r="8.9" fill="none" stroke="#000000" stroke-width="2.2"/>
<circle cx="752.5" cy="3591.2" r="12.3" fill="#101010"/>
<circle cx="752.5" cy="3591.2" r="8.9" fill="none" stroke="#000000" stroke-width="2.2"/>
<circle cx="786.9" cy="3608.4" r="12.3" fill="#101010"/>
<circle cx="786.9" cy="3608.4" r="8.9" fill="none" stroke="#000000" stroke-width="2.2"/>
<circle cx="800.6" cy="3611.9" r="12.3" fill="#101010"/>
<circle cx="800.6" cy="3611.9" r="8.9" fill="none" stroke="#000000" stroke-width="2.2"/>
<circle cx="714.7" cy="3556.9" r="12.3" fill="#101010"/>
<circle cx="714.7" cy="3556.9" r="8.9" fill="none" stroke="#000000" stroke-width="2.2"/>
<circle cx="745.6" cy="3560.3" r="12.3" fill="#101010"/>
<circle cx="745.6" cy="3560.3" r="8.9" fill="none" stroke="#000000" stroke-width="2.2"/>
<text x="92.2" y="2888.2" font-family="DejaVu Sans, Liberation Sans, sans-serif" font-size="53.70">The optimal value of the iterative process</text>
<rect x="929.0" y="2843.2" width="501.2" height="406.0" rx="9.0" fill="#fff" fill-opacity="0.8" stroke="#ccc" stroke-opacity="0.8" stroke-width="4.5"/>
<circle cx="991.7" cy="2882.6" r="10.0" fill="#ffc0cb" stroke="#ffc0cb" stroke-width="4.5"/>
<text x="1071.2" y="2894.1" font-family="DejaVu Sans, Liberation Sans, sans-serif" font-size="44.8">iteration = 0</text>
<circle cx="991.7" cy="2948.2" r="10.0" fill="#0000ff" stroke="#0000ff" stroke-width="4.5"/>
<text x="1071.2" y="2959.6" font-family="DejaVu Sans, Liberation Sans, sans-serif" font-size="44.8">iteration = 20</text>
<circle cx="991.7" cy="3013.7" r="10.0" fill="#008000" stroke="#008000" stroke-width="4.5"/>
<text x="1071.2" y="3025.2" font-family="DejaVu Sans, Liberation Sans, sans-serif" font-size="44.8">iteration = 40</text>
<circle cx="991.7" cy="3079.3" r="10.0" fill="#ff0000" stroke="#ff0000" stroke-width="4.5"/>
<text x="1071.2" y="3090.8" font-family="DejaVu Sans, Liberation Sans, sans-serif" font-size="44.8">iteration = 60</text>
<circle cx="991.7" cy="3144.9" r="10.0" fill="#ffff00" stroke="#ffff00" stroke-width="4.5"/>
<text x="1071.2" y="3156.4" font-family="DejaVu Sans, Liberation Sans, sans-serif" font-size="44.8">iteration = 80</text>
<circle cx="991.7" cy="3210.5" r="10.0" fill="#000000" stroke="#000000" stroke-width="4.5"/>
<text x="1071.2" y="3222.0" font-family="DejaVu Sans, Liberation Sans, sans-serif" font-size="44.8">iteration = 100</text>
</g>
<text x="322.7" y="4134.8" font-family="Liberation Serif, serif" font-size="87.0" textLength="852.6" lengthAdjust="spacingAndGlyphs">(<tspan font-weight="bold">c</tspan>) Improved NSGA-III</text>
</svg>
</body></html>
